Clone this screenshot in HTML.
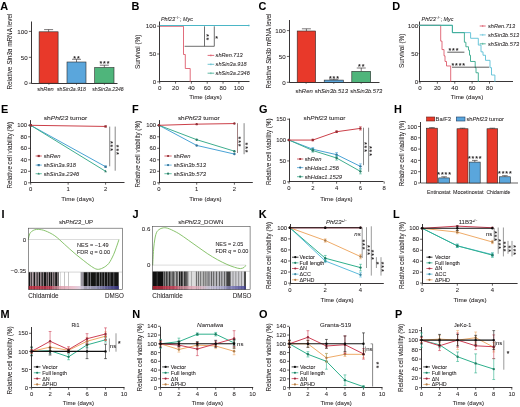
<!DOCTYPE html>
<html><head><meta charset="utf-8"><title>Figure</title>
<style>html,body{margin:0;padding:0;background:#fff;}svg{display:block;} text{stroke:#231f20;stroke-width:0.06px;} text.s{stroke:none;}</style>
</head><body>
<svg width="520" height="407" viewBox="0 0 520 407" font-family="'Liberation Sans', sans-serif" fill="#231f20">
<rect width="520" height="407" fill="#fff"/>
<text x="0.2" y="10" font-size="10.9" font-weight="bold" fill="#000">A</text>
<line x1="31.5" y1="21.5" x2="31.5" y2="83.5" stroke="#231f20" stroke-width="0.9"/>
<line x1="28.9" y1="83.2" x2="31.5" y2="83.2" stroke="#231f20" stroke-width="0.7"/>
<text x="27.6" y="85.43" font-size="6.2" text-anchor="end">0</text>
<line x1="28.9" y1="57.3" x2="31.5" y2="57.3" stroke="#231f20" stroke-width="0.7"/>
<text x="27.6" y="59.53" font-size="6.2" text-anchor="end">50</text>
<line x1="28.9" y1="31.4" x2="31.5" y2="31.4" stroke="#231f20" stroke-width="0.7"/>
<text x="27.6" y="33.63" font-size="6.2" text-anchor="end">100</text>
<line x1="31.4" y1="83.5" x2="117.5" y2="83.5" stroke="#231f20" stroke-width="0.9"/>
<line x1="48.9" y1="83.2" x2="48.9" y2="84.8" stroke="#231f20" stroke-width="0.6"/>
<line x1="76.5" y1="83.2" x2="76.5" y2="84.8" stroke="#231f20" stroke-width="0.6"/>
<line x1="104.4" y1="83.2" x2="104.4" y2="84.8" stroke="#231f20" stroke-width="0.6"/>
<line x1="48.6" y1="31.8" x2="48.6" y2="29.6" stroke="#231f20" stroke-width="0.6"/>
<line x1="44.1" y1="29.6" x2="53.1" y2="29.6" stroke="#231f20" stroke-width="0.6"/>
<rect x="39.1" y="31.8" width="19" height="51.4" fill="#e8392a" stroke="#2a2a2a" stroke-width="0.6"/>
<line x1="76.5" y1="62" x2="76.5" y2="59.3" stroke="#231f20" stroke-width="0.6"/>
<line x1="72" y1="59.3" x2="81" y2="59.3" stroke="#231f20" stroke-width="0.6"/>
<rect x="67" y="62" width="19" height="21.2" fill="#5aa6dc" stroke="#2a2a2a" stroke-width="0.6"/>
<line x1="104.35" y1="67.5" x2="104.35" y2="65.2" stroke="#231f20" stroke-width="0.6"/>
<line x1="99.85" y1="65.2" x2="108.85" y2="65.2" stroke="#231f20" stroke-width="0.6"/>
<rect x="94.7" y="67.5" width="19.3" height="15.7" fill="#4fb57b" stroke="#2a2a2a" stroke-width="0.6"/>
<text x="76.95" y="60.96" font-size="7" text-anchor="middle" font-weight="bold" letter-spacing="0.9" class="s">**</text>
<text x="104.85" y="66.36" font-size="7" text-anchor="middle" font-weight="bold" letter-spacing="0.9" class="s">***</text>
<text x="37.3" y="91.1" font-size="5.4" textLength="16.5" lengthAdjust="spacingAndGlyphs">sh<tspan font-style="italic">Ren</tspan></text>
<text x="57" y="91.1" font-size="5.4" textLength="28.8" lengthAdjust="spacingAndGlyphs">sh<tspan font-style="italic">Sin3a.918</tspan></text>
<text x="92.2" y="91.1" font-size="5.4" textLength="31.5" lengthAdjust="spacingAndGlyphs">sh<tspan font-style="italic">Sin3a.2346</tspan></text>
<text x="12.3" y="51.6" font-size="6.3" text-anchor="middle" transform="rotate(-90 12.3 51.6)" textLength="76" lengthAdjust="spacingAndGlyphs">Relative <tspan font-style="italic">Sin3a</tspan> mRNA level</text>
<text x="131.4" y="10" font-size="10.9" font-weight="bold" fill="#000">B</text>
<line x1="159.5" y1="21.5" x2="159.5" y2="81.8" stroke="#231f20" stroke-width="0.9"/>
<line x1="157.1" y1="81.8" x2="159.5" y2="81.8" stroke="#231f20" stroke-width="0.7"/>
<text x="156.1" y="84.03" font-size="6.2" text-anchor="end">0</text>
<line x1="157.1" y1="54" x2="159.5" y2="54" stroke="#231f20" stroke-width="0.7"/>
<text x="156.1" y="56.23" font-size="6.2" text-anchor="end">50</text>
<line x1="157.1" y1="26.2" x2="159.5" y2="26.2" stroke="#231f20" stroke-width="0.7"/>
<text x="156.1" y="28.43" font-size="6.2" text-anchor="end">100</text>
<line x1="159.7" y1="81.5" x2="249.5" y2="81.5" stroke="#231f20" stroke-width="0.9"/>
<line x1="159.7" y1="81.5" x2="159.7" y2="83.7" stroke="#231f20" stroke-width="0.7"/>
<text x="159.7" y="89.7" font-size="6.2" text-anchor="middle">0</text>
<line x1="175.54" y1="81.5" x2="175.54" y2="83.7" stroke="#231f20" stroke-width="0.7"/>
<text x="175.54" y="89.7" font-size="6.2" text-anchor="middle">20</text>
<line x1="191.38" y1="81.5" x2="191.38" y2="83.7" stroke="#231f20" stroke-width="0.7"/>
<text x="191.38" y="89.7" font-size="6.2" text-anchor="middle">40</text>
<line x1="207.22" y1="81.5" x2="207.22" y2="83.7" stroke="#231f20" stroke-width="0.7"/>
<text x="207.22" y="89.7" font-size="6.2" text-anchor="middle">60</text>
<line x1="223.06" y1="81.5" x2="223.06" y2="83.7" stroke="#231f20" stroke-width="0.7"/>
<text x="223.06" y="89.7" font-size="6.2" text-anchor="middle">80</text>
<line x1="238.9" y1="81.5" x2="238.9" y2="83.7" stroke="#231f20" stroke-width="0.7"/>
<text x="238.9" y="89.7" font-size="6.2" text-anchor="middle">100</text>
<text x="205.5" y="98.6" font-size="6.15" text-anchor="middle" textLength="32.5" lengthAdjust="spacingAndGlyphs">Time (days)</text>
<text x="139.9" y="51.8" font-size="6.3" text-anchor="middle" transform="rotate(-90 139.9 51.8)" textLength="34.4" lengthAdjust="spacingAndGlyphs">Survival (%)</text>
<text x="161" y="21.2" font-size="5.4"><tspan font-style="italic">Phf23</tspan><tspan font-size="3.4" dy="-2">−/−</tspan><tspan dy="2">; </tspan><tspan font-style="italic">Myc</tspan></text>
<polyline points="159.7,26.3 183.5,26.3 183.5,54.5 185.3,54.5 185.3,68.5 190.2,68.5 190.2,81.8" fill="none" stroke="#d9485a" stroke-width="0.8"/>
<polyline points="184.6,46.3 214.3,46.3 214.3,26.3" fill="none" stroke="#4a4a4a" stroke-width="0.8"/>
<line x1="204.5" y1="26.3" x2="204.5" y2="46.3" stroke="#4a4a4a" stroke-width="0.8"/>
<line x1="159.7" y1="25.5" x2="249.5" y2="25.5" stroke="#4bb6c6" stroke-width="1"/>
<line x1="248.8" y1="24.5" x2="248.8" y2="26.5" stroke="#4bb6c6" stroke-width="0.6"/>
<text x="203.84" y="37.55" font-size="7" text-anchor="middle" font-weight="bold" transform="rotate(90 203.84 37.55)" letter-spacing="0.9" class="s">**</text>
<text x="217.15" y="40.76" font-size="7" text-anchor="middle" font-weight="bold" letter-spacing="0.9" class="s">*</text>
<line x1="207.6" y1="55.4" x2="214.2" y2="55.4" stroke="#d9485a" stroke-width="0.8"/>
<line x1="210.9" y1="54.4" x2="210.9" y2="56.4" stroke="#d9485a" stroke-width="0.6"/>
<text x="215.6" y="57.4" font-size="5.6" font-style="italic">shRen.713</text>
<line x1="207.6" y1="64.3" x2="214.2" y2="64.3" stroke="#4bb6c6" stroke-width="0.8"/>
<line x1="210.9" y1="63.3" x2="210.9" y2="65.3" stroke="#4bb6c6" stroke-width="0.6"/>
<text x="215.6" y="66.3" font-size="5.6" font-style="italic">shSin3a.918</text>
<line x1="207.6" y1="73.2" x2="214.2" y2="73.2" stroke="#3aa88e" stroke-width="0.8"/>
<line x1="210.9" y1="72.2" x2="210.9" y2="74.2" stroke="#3aa88e" stroke-width="0.6"/>
<text x="215.6" y="75.2" font-size="5.6" font-style="italic">shSin3a.2346</text>
<text x="258.4" y="10" font-size="10.9" font-weight="bold" fill="#000">C</text>
<line x1="289.5" y1="20" x2="289.5" y2="82.5" stroke="#231f20" stroke-width="0.9"/>
<line x1="286.9" y1="82.3" x2="289.5" y2="82.3" stroke="#231f20" stroke-width="0.7"/>
<text x="285.6" y="84.53" font-size="6.2" text-anchor="end">0</text>
<line x1="286.9" y1="56.45" x2="289.5" y2="56.45" stroke="#231f20" stroke-width="0.7"/>
<text x="285.6" y="58.68" font-size="6.2" text-anchor="end">50</text>
<line x1="286.9" y1="30.6" x2="289.5" y2="30.6" stroke="#231f20" stroke-width="0.7"/>
<text x="285.6" y="32.83" font-size="6.2" text-anchor="end">100</text>
<line x1="289.3" y1="82.5" x2="379.5" y2="82.5" stroke="#231f20" stroke-width="0.9"/>
<line x1="306.1" y1="82.3" x2="306.1" y2="83.9" stroke="#231f20" stroke-width="0.6"/>
<line x1="333.8" y1="82.3" x2="333.8" y2="83.9" stroke="#231f20" stroke-width="0.6"/>
<line x1="361.2" y1="82.3" x2="361.2" y2="83.9" stroke="#231f20" stroke-width="0.6"/>
<line x1="306.4" y1="31" x2="306.4" y2="28.8" stroke="#231f20" stroke-width="0.6"/>
<line x1="301.9" y1="28.8" x2="310.9" y2="28.8" stroke="#231f20" stroke-width="0.6"/>
<rect x="297.2" y="31" width="18.4" height="51.3" fill="#e8392a" stroke="#2a2a2a" stroke-width="0.6"/>
<line x1="333.8" y1="80.1" x2="333.8" y2="79.3" stroke="#231f20" stroke-width="0.6"/>
<line x1="329.3" y1="79.3" x2="338.3" y2="79.3" stroke="#231f20" stroke-width="0.6"/>
<rect x="324.2" y="80.1" width="19.2" height="2.2" fill="#5aa6dc" stroke="#2a2a2a" stroke-width="0.6"/>
<line x1="361.25" y1="71.3" x2="361.25" y2="68" stroke="#231f20" stroke-width="0.6"/>
<line x1="356.75" y1="68" x2="365.75" y2="68" stroke="#231f20" stroke-width="0.6"/>
<rect x="351.8" y="71.3" width="18.9" height="11" fill="#4fb57b" stroke="#2a2a2a" stroke-width="0.6"/>
<text x="334.45" y="81.06" font-size="7" text-anchor="middle" font-weight="bold" letter-spacing="0.9" class="s">***</text>
<text x="361.65" y="69.36" font-size="7" text-anchor="middle" font-weight="bold" letter-spacing="0.9" class="s">**</text>
<text x="295.5" y="93.3" font-size="5.6" textLength="17.3" lengthAdjust="spacingAndGlyphs">sh<tspan font-style="italic">Ren</tspan></text>
<text x="314.7" y="93.3" font-size="5.6" textLength="33.3" lengthAdjust="spacingAndGlyphs">sh<tspan font-style="italic">Sin3b.513</tspan></text>
<text x="350.3" y="93.3" font-size="5.6" textLength="32" lengthAdjust="spacingAndGlyphs">sh<tspan font-style="italic">Sin3b.573</tspan></text>
<text x="271.3" y="51" font-size="6.3" text-anchor="middle" transform="rotate(-90 271.3 51)" textLength="75" lengthAdjust="spacingAndGlyphs">Relative <tspan font-style="italic">Sin3b</tspan> mRNA level</text>
<text x="392.3" y="10" font-size="10.9" font-weight="bold" fill="#000">D</text>
<line x1="419.5" y1="21.5" x2="419.5" y2="81.8" stroke="#231f20" stroke-width="0.9"/>
<line x1="418.5" y1="81.8" x2="419.5" y2="81.8" stroke="#231f20" stroke-width="0.7"/>
<text x="418.2" y="84.03" font-size="6.2" text-anchor="end">0</text>
<line x1="418.5" y1="53.55" x2="419.5" y2="53.55" stroke="#231f20" stroke-width="0.7"/>
<text x="418.2" y="55.78" font-size="6.2" text-anchor="end">50</text>
<line x1="418.5" y1="25.3" x2="419.5" y2="25.3" stroke="#231f20" stroke-width="0.7"/>
<text x="418.2" y="27.53" font-size="6.2" text-anchor="end">100</text>
<line x1="419.3" y1="81.5" x2="513" y2="81.5" stroke="#231f20" stroke-width="0.9"/>
<line x1="420" y1="81.5" x2="420" y2="83.7" stroke="#231f20" stroke-width="0.7"/>
<text x="420" y="89.7" font-size="6.2" text-anchor="middle">0</text>
<line x1="437.38" y1="81.5" x2="437.38" y2="83.7" stroke="#231f20" stroke-width="0.7"/>
<text x="437.38" y="89.7" font-size="6.2" text-anchor="middle">20</text>
<line x1="454.75" y1="81.5" x2="454.75" y2="83.7" stroke="#231f20" stroke-width="0.7"/>
<text x="454.75" y="89.7" font-size="6.2" text-anchor="middle">40</text>
<line x1="472.12" y1="81.5" x2="472.12" y2="83.7" stroke="#231f20" stroke-width="0.7"/>
<text x="472.12" y="89.7" font-size="6.2" text-anchor="middle">60</text>
<line x1="489.5" y1="81.5" x2="489.5" y2="83.7" stroke="#231f20" stroke-width="0.7"/>
<text x="489.5" y="89.7" font-size="6.2" text-anchor="middle">80</text>
<text x="467" y="98.6" font-size="6.15" text-anchor="middle" textLength="32.5" lengthAdjust="spacingAndGlyphs">Time (days)</text>
<text x="404.4" y="50.8" font-size="6.3" text-anchor="middle" transform="rotate(-90 404.4 50.8)" textLength="34.3" lengthAdjust="spacingAndGlyphs">Survival (%)</text>
<text x="421.6" y="21.2" font-size="5.4"><tspan font-style="italic">Phf23</tspan><tspan font-size="3.4" dy="-2">−/−</tspan><tspan dy="2">; </tspan><tspan font-style="italic">Myc</tspan></text>
<polyline points="419.3,25.3 440.7,25.3 440.7,41.12 442,41.12 442,49.59 444,49.59 444,55.81 445,55.81 445,61.46 446.5,61.46 446.5,65.98 450.7,65.98 450.7,81.8" fill="none" stroke="#d9485a" stroke-width="0.8"/>
<polyline points="419.3,25.3 452.4,25.3 452.4,32.64 470.6,32.64 470.6,38.29 478.3,38.29 478.3,45.07 481,45.07 481,51.85 483,51.85 483,55.24 485.5,55.24 485.5,60.33 490,60.33 490,67.67 491.5,67.67 491.5,75.02 494.9,75.02 494.9,81.8" fill="none" stroke="#5bbfd6" stroke-width="0.9"/>
<polyline points="419.3,25.3 452.4,25.3 452.4,32.64 464.4,32.64 464.4,42.25 465.9,42.25 465.9,46.77 468.5,46.77 468.5,50.16 469.5,50.16 469.5,55.24 470.5,55.24 470.5,61.46 475.2,61.46 475.2,67.67 476,67.67 476,72.76 478.3,72.76 478.3,81.8" fill="none" stroke="#35a88c" stroke-width="0.9"/>
<line x1="447.3" y1="52.2" x2="464.4" y2="52.2" stroke="#333" stroke-width="0.8"/>
<text x="453.95" y="53.06" font-size="7" text-anchor="middle" font-weight="bold" letter-spacing="0.9" class="s">***</text>
<line x1="452" y1="67.2" x2="489.2" y2="67.2" stroke="#333" stroke-width="0.8"/>
<text x="458.65" y="67.86" font-size="7" text-anchor="middle" font-weight="bold" letter-spacing="0.9" class="s">****</text>
<line x1="479.7" y1="26" x2="485.7" y2="26" stroke="#d9485a" stroke-width="0.8"/>
<line x1="482.7" y1="25" x2="482.7" y2="27" stroke="#d9485a" stroke-width="0.6"/>
<text x="488" y="28" font-size="5.6" font-style="italic">shRen.713</text>
<line x1="479.7" y1="34.9" x2="485.7" y2="34.9" stroke="#5bbfd6" stroke-width="0.8"/>
<line x1="482.7" y1="33.9" x2="482.7" y2="35.9" stroke="#5bbfd6" stroke-width="0.6"/>
<text x="488" y="36.9" font-size="5.6" font-style="italic">shSin3b.513</text>
<line x1="479.7" y1="43.8" x2="485.7" y2="43.8" stroke="#35a88c" stroke-width="0.8"/>
<line x1="482.7" y1="42.8" x2="482.7" y2="44.8" stroke="#35a88c" stroke-width="0.6"/>
<text x="488" y="45.8" font-size="5.6" font-style="italic">shSin3b.573</text>
<text x="1" y="113.1" font-size="10.9" font-weight="bold" fill="#000">E</text>
<line x1="30.5" y1="120.1" x2="30.5" y2="182.8" stroke="#231f20" stroke-width="0.9"/>
<line x1="28.1" y1="182.8" x2="30.5" y2="182.8" stroke="#231f20" stroke-width="0.7"/>
<text x="27.1" y="184.92" font-size="5.9" text-anchor="end">0</text>
<line x1="28.1" y1="171.3" x2="30.5" y2="171.3" stroke="#231f20" stroke-width="0.7"/>
<text x="27.1" y="173.42" font-size="5.9" text-anchor="end">20</text>
<line x1="28.1" y1="159.8" x2="30.5" y2="159.8" stroke="#231f20" stroke-width="0.7"/>
<text x="27.1" y="161.92" font-size="5.9" text-anchor="end">40</text>
<line x1="28.1" y1="148.3" x2="30.5" y2="148.3" stroke="#231f20" stroke-width="0.7"/>
<text x="27.1" y="150.42" font-size="5.9" text-anchor="end">60</text>
<line x1="28.1" y1="136.8" x2="30.5" y2="136.8" stroke="#231f20" stroke-width="0.7"/>
<text x="27.1" y="138.92" font-size="5.9" text-anchor="end">80</text>
<line x1="28.1" y1="125.3" x2="30.5" y2="125.3" stroke="#231f20" stroke-width="0.7"/>
<text x="27.1" y="127.42" font-size="5.9" text-anchor="end">100</text>
<line x1="30.7" y1="182.5" x2="124.5" y2="182.5" stroke="#231f20" stroke-width="0.9"/>
<line x1="30.7" y1="182.5" x2="30.7" y2="184.7" stroke="#231f20" stroke-width="0.7"/>
<text x="30.7" y="191.3" font-size="5.9" text-anchor="middle">0</text>
<line x1="68.15" y1="182.5" x2="68.15" y2="184.7" stroke="#231f20" stroke-width="0.7"/>
<text x="68.15" y="191.3" font-size="5.9" text-anchor="middle">1</text>
<line x1="105.6" y1="182.5" x2="105.6" y2="184.7" stroke="#231f20" stroke-width="0.7"/>
<text x="105.6" y="191.3" font-size="5.9" text-anchor="middle">2</text>
<text x="77.6" y="200.6" font-size="6.15" text-anchor="middle" textLength="32.8" lengthAdjust="spacingAndGlyphs">Time (days)</text>
<text x="12.2" y="155.2" font-size="6.3" text-anchor="middle" transform="rotate(-90 12.2 155.2)" textLength="66.5" lengthAdjust="spacingAndGlyphs">Relative cell viability (%)</text>
<text x="43.7" y="120.2" font-size="5.8" textLength="43.5" lengthAdjust="spacingAndGlyphs">sh<tspan font-style="italic">Phf23</tspan> tumor</text>
<polyline points="30.7,125.3 105.6,166.7" fill="none" stroke="#4aa3d6" stroke-width="1"/>
<rect x="29.5" y="124.1" width="2.4" height="2.4" fill="#35759a"/>
<rect x="104.4" y="165.5" width="2.4" height="2.4" fill="#35759a"/>
<polyline points="30.7,125.3 105.6,171.3" fill="none" stroke="#3fae8f" stroke-width="1"/>
<polygon points="30.7,123.86 29.38,126.26 32.02,126.26" fill="#2d7d66"/>
<polygon points="105.6,169.86 104.28,172.26 106.92,172.26" fill="#2d7d66"/>
<polyline points="30.7,125.3 105.6,126.45" fill="none" stroke="#cc4049" stroke-width="1"/>
<rect x="29.5" y="124.1" width="2.4" height="2.4" fill="#922e34"/>
<rect x="104.4" y="125.25" width="2.4" height="2.4" fill="#922e34"/>
<line x1="109.7" y1="126.6" x2="109.7" y2="166.3" stroke="#555" stroke-width="0.7"/>
<text x="107.84" y="146.35" font-size="7" text-anchor="middle" font-weight="bold" transform="rotate(90 107.84 146.35)" letter-spacing="0.9" class="s">***</text>
<line x1="115.2" y1="126.6" x2="115.2" y2="170.7" stroke="#555" stroke-width="0.7"/>
<text x="113.74" y="150.25" font-size="7" text-anchor="middle" font-weight="bold" transform="rotate(90 113.74 150.25)" letter-spacing="0.9" class="s">***</text>
<line x1="35.6" y1="156" x2="41.8" y2="156" stroke="#cc4049" stroke-width="0.8"/>
<rect x="37.6" y="154.9" width="2.2" height="2.2" fill="#922e34"/>
<text x="43.7" y="158.09" font-size="5.8">sh<tspan font-style="italic">Ren</tspan></text>
<line x1="35.6" y1="165.1" x2="41.8" y2="165.1" stroke="#4aa3d6" stroke-width="0.8"/>
<rect x="37.6" y="164" width="2.2" height="2.2" fill="#35759a"/>
<text x="43.7" y="167.19" font-size="5.8">sh<tspan font-style="italic">Sin3a.918</tspan></text>
<line x1="35.6" y1="173.7" x2="41.8" y2="173.7" stroke="#3fae8f" stroke-width="0.8"/>
<polygon points="38.7,172.38 37.49,174.58 39.91,174.58" fill="#2d7d66"/>
<text x="43.7" y="175.79" font-size="5.8">sh<tspan font-style="italic">Sin3a.2346</tspan></text>
<text x="132" y="113.1" font-size="10.9" font-weight="bold" fill="#000">F</text>
<line x1="159.5" y1="120.1" x2="159.5" y2="182.8" stroke="#231f20" stroke-width="0.9"/>
<line x1="157.1" y1="182.8" x2="159.5" y2="182.8" stroke="#231f20" stroke-width="0.7"/>
<text x="156.1" y="184.92" font-size="5.9" text-anchor="end">0</text>
<line x1="157.1" y1="171.3" x2="159.5" y2="171.3" stroke="#231f20" stroke-width="0.7"/>
<text x="156.1" y="173.42" font-size="5.9" text-anchor="end">20</text>
<line x1="157.1" y1="159.8" x2="159.5" y2="159.8" stroke="#231f20" stroke-width="0.7"/>
<text x="156.1" y="161.92" font-size="5.9" text-anchor="end">40</text>
<line x1="157.1" y1="148.3" x2="159.5" y2="148.3" stroke="#231f20" stroke-width="0.7"/>
<text x="156.1" y="150.42" font-size="5.9" text-anchor="end">60</text>
<line x1="157.1" y1="136.8" x2="159.5" y2="136.8" stroke="#231f20" stroke-width="0.7"/>
<text x="156.1" y="138.92" font-size="5.9" text-anchor="end">80</text>
<line x1="157.1" y1="125.3" x2="159.5" y2="125.3" stroke="#231f20" stroke-width="0.7"/>
<text x="156.1" y="127.42" font-size="5.9" text-anchor="end">100</text>
<line x1="159" y1="182.5" x2="252.8" y2="182.5" stroke="#231f20" stroke-width="0.9"/>
<line x1="159" y1="182.5" x2="159" y2="184.7" stroke="#231f20" stroke-width="0.7"/>
<text x="159" y="191.3" font-size="5.9" text-anchor="middle">0</text>
<line x1="196.7" y1="182.5" x2="196.7" y2="184.7" stroke="#231f20" stroke-width="0.7"/>
<text x="196.7" y="191.3" font-size="5.9" text-anchor="middle">1</text>
<line x1="234.4" y1="182.5" x2="234.4" y2="184.7" stroke="#231f20" stroke-width="0.7"/>
<text x="234.4" y="191.3" font-size="5.9" text-anchor="middle">2</text>
<text x="205.4" y="200.6" font-size="6.15" text-anchor="middle" textLength="32.4" lengthAdjust="spacingAndGlyphs">Time (days)</text>
<text x="140.4" y="154.3" font-size="6.3" text-anchor="middle" transform="rotate(-90 140.4 154.3)" textLength="66.5" lengthAdjust="spacingAndGlyphs">Relative cell viability (%)</text>
<text x="177.9" y="120.2" font-size="5.8" textLength="41.7" lengthAdjust="spacingAndGlyphs">sh<tspan font-style="italic">Phf23</tspan> tumor</text>
<polyline points="159,125.3 196.7,145.43 234.4,154.05" fill="none" stroke="#4aa3d6" stroke-width="1"/>
<circle cx="159" cy="125.3" r="1.2" fill="#35759a"/>
<circle cx="196.7" cy="145.43" r="1.2" fill="#35759a"/>
<circle cx="234.4" cy="154.05" r="1.2" fill="#35759a"/>
<polyline points="159,125.3 196.7,139.68 234.4,151.18" fill="none" stroke="#3fae8f" stroke-width="1"/>
<circle cx="159" cy="125.3" r="1.2" fill="#2d7d66"/>
<circle cx="196.7" cy="139.68" r="1.2" fill="#2d7d66"/>
<circle cx="234.4" cy="151.18" r="1.2" fill="#2d7d66"/>
<polyline points="159,125.3 196.7,124.15 234.4,123.57" fill="none" stroke="#cc4049" stroke-width="1"/>
<circle cx="159" cy="125.3" r="1.2" fill="#922e34"/>
<circle cx="196.7" cy="124.15" r="1.2" fill="#922e34"/>
<circle cx="234.4" cy="123.57" r="1.2" fill="#922e34"/>
<line x1="237.5" y1="123.2" x2="237.5" y2="153" stroke="#7a4a4a" stroke-width="0.7"/>
<text x="236.24" y="141.95" font-size="7" text-anchor="middle" font-weight="bold" transform="rotate(90 236.24 141.95)" letter-spacing="0.9" class="s">***</text>
<line x1="244.1" y1="123.2" x2="244.1" y2="154.2" stroke="#555" stroke-width="0.7"/>
<text x="243.24" y="147.95" font-size="7" text-anchor="middle" font-weight="bold" transform="rotate(90 243.24 147.95)" letter-spacing="0.9" class="s">***</text>
<line x1="164.4" y1="156" x2="171.7" y2="156" stroke="#cc4049" stroke-width="0.8"/>
<circle cx="168.05" cy="156" r="1.1" fill="#922e34"/>
<text x="173.7" y="158.09" font-size="5.8">sh<tspan font-style="italic">Ren</tspan></text>
<line x1="164.4" y1="165.1" x2="171.7" y2="165.1" stroke="#4aa3d6" stroke-width="0.8"/>
<circle cx="168.05" cy="165.1" r="1.1" fill="#35759a"/>
<text x="173.7" y="167.19" font-size="5.8">sh<tspan font-style="italic">Sin3b.513</tspan></text>
<line x1="164.4" y1="173.7" x2="171.7" y2="173.7" stroke="#3fae8f" stroke-width="0.8"/>
<circle cx="168.05" cy="173.7" r="1.1" fill="#2d7d66"/>
<text x="173.7" y="175.79" font-size="5.8">sh<tspan font-style="italic">Sin3b.573</tspan></text>
<text x="258.9" y="113.1" font-size="10.9" font-weight="bold" fill="#000">G</text>
<line x1="289.5" y1="118.5" x2="289.5" y2="181.8" stroke="#231f20" stroke-width="0.9"/>
<line x1="287.1" y1="181.8" x2="289.5" y2="181.8" stroke="#231f20" stroke-width="0.7"/>
<text x="286.1" y="183.92" font-size="5.9" text-anchor="end">0</text>
<line x1="287.1" y1="160.93" x2="289.5" y2="160.93" stroke="#231f20" stroke-width="0.7"/>
<text x="286.1" y="163.06" font-size="5.9" text-anchor="end">50</text>
<line x1="287.1" y1="140.07" x2="289.5" y2="140.07" stroke="#231f20" stroke-width="0.7"/>
<text x="286.1" y="142.19" font-size="5.9" text-anchor="end">100</text>
<line x1="287.1" y1="119.2" x2="289.5" y2="119.2" stroke="#231f20" stroke-width="0.7"/>
<text x="286.1" y="121.32" font-size="5.9" text-anchor="end">150</text>
<line x1="289" y1="181.5" x2="383.5" y2="181.5" stroke="#231f20" stroke-width="0.9"/>
<line x1="289" y1="181.5" x2="289" y2="183.7" stroke="#231f20" stroke-width="0.7"/>
<text x="289" y="190.3" font-size="5.9" text-anchor="middle">0</text>
<line x1="312.8" y1="181.5" x2="312.8" y2="183.7" stroke="#231f20" stroke-width="0.7"/>
<text x="312.8" y="190.3" font-size="5.9" text-anchor="middle">2</text>
<line x1="336.6" y1="181.5" x2="336.6" y2="183.7" stroke="#231f20" stroke-width="0.7"/>
<text x="336.6" y="190.3" font-size="5.9" text-anchor="middle">4</text>
<line x1="360.4" y1="181.5" x2="360.4" y2="183.7" stroke="#231f20" stroke-width="0.7"/>
<text x="360.4" y="190.3" font-size="5.9" text-anchor="middle">6</text>
<line x1="384.2" y1="181.5" x2="384.2" y2="183.7" stroke="#231f20" stroke-width="0.7"/>
<text x="384.2" y="190.3" font-size="5.9" text-anchor="middle">8</text>
<text x="336.4" y="200.6" font-size="6.15" text-anchor="middle" textLength="32.4" lengthAdjust="spacingAndGlyphs">Time (days)</text>
<text x="270.6" y="151.8" font-size="6.3" text-anchor="middle" transform="rotate(-90 270.6 151.8)" textLength="66.5" lengthAdjust="spacingAndGlyphs">Relative cell viability (%)</text>
<text x="303.6" y="120.2" font-size="5.8" textLength="41.8" lengthAdjust="spacingAndGlyphs">sh<tspan font-style="italic">Phf23</tspan> tumor</text>
<polyline points="289,140.07 312.8,149.25 336.6,154.67 360.4,166.36" fill="none" stroke="#4aa3d6" stroke-width="1"/>
<line x1="312.8" y1="150.92" x2="312.8" y2="147.58" stroke="#4aa3d6" stroke-width="0.6"/>
<line x1="311.4" y1="150.92" x2="314.2" y2="150.92" stroke="#4aa3d6" stroke-width="0.6"/>
<line x1="311.4" y1="147.58" x2="314.2" y2="147.58" stroke="#4aa3d6" stroke-width="0.6"/>
<line x1="336.6" y1="156.76" x2="336.6" y2="152.59" stroke="#4aa3d6" stroke-width="0.6"/>
<line x1="335.2" y1="156.76" x2="338" y2="156.76" stroke="#4aa3d6" stroke-width="0.6"/>
<line x1="335.2" y1="152.59" x2="338" y2="152.59" stroke="#4aa3d6" stroke-width="0.6"/>
<line x1="360.4" y1="168.86" x2="360.4" y2="163.85" stroke="#4aa3d6" stroke-width="0.6"/>
<line x1="359" y1="168.86" x2="361.8" y2="168.86" stroke="#4aa3d6" stroke-width="0.6"/>
<line x1="359" y1="163.85" x2="361.8" y2="163.85" stroke="#4aa3d6" stroke-width="0.6"/>
<circle cx="289" cy="140.07" r="1.2" fill="#35759a"/>
<circle cx="312.8" cy="149.25" r="1.2" fill="#35759a"/>
<circle cx="336.6" cy="154.67" r="1.2" fill="#35759a"/>
<circle cx="360.4" cy="166.36" r="1.2" fill="#35759a"/>
<polyline points="289,140.07 312.8,150.5 336.6,158.01 360.4,171.37" fill="none" stroke="#3fae8f" stroke-width="1"/>
<line x1="312.8" y1="152.17" x2="312.8" y2="148.83" stroke="#3fae8f" stroke-width="0.6"/>
<line x1="311.4" y1="152.17" x2="314.2" y2="152.17" stroke="#3fae8f" stroke-width="0.6"/>
<line x1="311.4" y1="148.83" x2="314.2" y2="148.83" stroke="#3fae8f" stroke-width="0.6"/>
<line x1="336.6" y1="160.1" x2="336.6" y2="155.93" stroke="#3fae8f" stroke-width="0.6"/>
<line x1="335.2" y1="160.1" x2="338" y2="160.1" stroke="#3fae8f" stroke-width="0.6"/>
<line x1="335.2" y1="155.93" x2="338" y2="155.93" stroke="#3fae8f" stroke-width="0.6"/>
<line x1="360.4" y1="173.87" x2="360.4" y2="168.86" stroke="#3fae8f" stroke-width="0.6"/>
<line x1="359" y1="173.87" x2="361.8" y2="173.87" stroke="#3fae8f" stroke-width="0.6"/>
<line x1="359" y1="168.86" x2="361.8" y2="168.86" stroke="#3fae8f" stroke-width="0.6"/>
<circle cx="289" cy="140.07" r="1.2" fill="#2d7d66"/>
<circle cx="312.8" cy="150.5" r="1.2" fill="#2d7d66"/>
<circle cx="336.6" cy="158.01" r="1.2" fill="#2d7d66"/>
<circle cx="360.4" cy="171.37" r="1.2" fill="#2d7d66"/>
<polyline points="289,140.07 312.8,140.07 336.6,131.72 360.4,128.38" fill="none" stroke="#cc4049" stroke-width="1"/>
<line x1="312.8" y1="140.9" x2="312.8" y2="139.23" stroke="#cc4049" stroke-width="0.6"/>
<line x1="311.4" y1="140.9" x2="314.2" y2="140.9" stroke="#cc4049" stroke-width="0.6"/>
<line x1="311.4" y1="139.23" x2="314.2" y2="139.23" stroke="#cc4049" stroke-width="0.6"/>
<line x1="336.6" y1="132.55" x2="336.6" y2="130.89" stroke="#cc4049" stroke-width="0.6"/>
<line x1="335.2" y1="132.55" x2="338" y2="132.55" stroke="#cc4049" stroke-width="0.6"/>
<line x1="335.2" y1="130.89" x2="338" y2="130.89" stroke="#cc4049" stroke-width="0.6"/>
<line x1="360.4" y1="130.05" x2="360.4" y2="126.71" stroke="#cc4049" stroke-width="0.6"/>
<line x1="359" y1="130.05" x2="361.8" y2="130.05" stroke="#cc4049" stroke-width="0.6"/>
<line x1="359" y1="126.71" x2="361.8" y2="126.71" stroke="#cc4049" stroke-width="0.6"/>
<circle cx="289" cy="140.07" r="1.2" fill="#922e34"/>
<circle cx="312.8" cy="140.07" r="1.2" fill="#922e34"/>
<circle cx="336.6" cy="131.72" r="1.2" fill="#922e34"/>
<circle cx="360.4" cy="128.38" r="1.2" fill="#922e34"/>
<line x1="363.5" y1="127.7" x2="363.5" y2="165.2" stroke="#555" stroke-width="0.7"/>
<text x="361.84" y="147.45" font-size="7" text-anchor="middle" font-weight="bold" transform="rotate(90 361.84 147.45)" letter-spacing="0.9" class="s">***</text>
<line x1="368.6" y1="127.7" x2="368.6" y2="171.8" stroke="#555" stroke-width="0.7"/>
<text x="367.14" y="151.45" font-size="7" text-anchor="middle" font-weight="bold" transform="rotate(90 367.14 151.45)" letter-spacing="0.9" class="s">***</text>
<line x1="297" y1="159" x2="303.3" y2="159" stroke="#cc4049" stroke-width="0.8"/>
<circle cx="300.15" cy="159" r="1.1" fill="#922e34"/>
<text x="304.7" y="161.09" font-size="5.8">sh<tspan font-style="italic">Ren</tspan></text>
<line x1="297" y1="167.6" x2="303.3" y2="167.6" stroke="#4aa3d6" stroke-width="0.8"/>
<circle cx="300.15" cy="167.6" r="1.1" fill="#35759a"/>
<text x="304.7" y="169.69" font-size="5.8">sh<tspan font-style="italic">Hdac1.256</tspan></text>
<line x1="297" y1="176.7" x2="303.3" y2="176.7" stroke="#3fae8f" stroke-width="0.8"/>
<circle cx="300.15" cy="176.7" r="1.1" fill="#2d7d66"/>
<text x="304.7" y="178.79" font-size="5.8">sh<tspan font-style="italic">Hdac1.1529</tspan></text>
<text x="394" y="113.1" font-size="10.9" font-weight="bold" fill="#000">H</text>
<line x1="420.5" y1="122" x2="420.5" y2="183" stroke="#231f20" stroke-width="0.9"/>
<line x1="418.1" y1="183" x2="420.5" y2="183" stroke="#231f20" stroke-width="0.7"/>
<text x="417.1" y="185.12" font-size="5.9" text-anchor="end">0</text>
<line x1="418.1" y1="171.7" x2="420.5" y2="171.7" stroke="#231f20" stroke-width="0.7"/>
<text x="417.1" y="173.82" font-size="5.9" text-anchor="end">20</text>
<line x1="418.1" y1="160.4" x2="420.5" y2="160.4" stroke="#231f20" stroke-width="0.7"/>
<text x="417.1" y="162.52" font-size="5.9" text-anchor="end">40</text>
<line x1="418.1" y1="149.1" x2="420.5" y2="149.1" stroke="#231f20" stroke-width="0.7"/>
<text x="417.1" y="151.22" font-size="5.9" text-anchor="end">60</text>
<line x1="418.1" y1="137.8" x2="420.5" y2="137.8" stroke="#231f20" stroke-width="0.7"/>
<text x="417.1" y="139.92" font-size="5.9" text-anchor="end">80</text>
<line x1="418.1" y1="126.5" x2="420.5" y2="126.5" stroke="#231f20" stroke-width="0.7"/>
<text x="417.1" y="128.62" font-size="5.9" text-anchor="end">100</text>
<line x1="420.9" y1="183" x2="518" y2="183" stroke="#231f20" stroke-width="0.7"/>
<text x="404.1" y="153.5" font-size="6.3" text-anchor="middle" transform="rotate(-90 404.1 153.5)" textLength="65.5" lengthAdjust="spacingAndGlyphs">Relative cell viability (%)</text>
<line x1="431.95" y1="128.19" x2="431.95" y2="127.63" stroke="#231f20" stroke-width="0.6"/>
<line x1="429.15" y1="127.63" x2="434.75" y2="127.63" stroke="#231f20" stroke-width="0.6"/>
<rect x="426.4" y="128.19" width="11.1" height="54.81" fill="#e8392a" stroke="#2a2a2a" stroke-width="0.6"/>
<line x1="444.1" y1="177.91" x2="444.1" y2="176.78" stroke="#231f20" stroke-width="0.6"/>
<line x1="441.3" y1="176.78" x2="446.9" y2="176.78" stroke="#231f20" stroke-width="0.6"/>
<rect x="438.7" y="177.91" width="10.8" height="5.09" fill="#5aa6dc" stroke="#2a2a2a" stroke-width="0.6"/>
<line x1="462.5" y1="128.76" x2="462.5" y2="128.19" stroke="#231f20" stroke-width="0.6"/>
<line x1="459.7" y1="128.19" x2="465.3" y2="128.19" stroke="#231f20" stroke-width="0.6"/>
<rect x="457" y="128.76" width="11" height="54.24" fill="#e8392a" stroke="#2a2a2a" stroke-width="0.6"/>
<line x1="474.8" y1="162.09" x2="474.8" y2="160.4" stroke="#231f20" stroke-width="0.6"/>
<line x1="472" y1="160.4" x2="477.6" y2="160.4" stroke="#231f20" stroke-width="0.6"/>
<rect x="469.4" y="162.09" width="10.8" height="20.91" fill="#5aa6dc" stroke="#2a2a2a" stroke-width="0.6"/>
<line x1="492.35" y1="128.76" x2="492.35" y2="128.19" stroke="#231f20" stroke-width="0.6"/>
<line x1="489.55" y1="128.19" x2="495.15" y2="128.19" stroke="#231f20" stroke-width="0.6"/>
<rect x="487" y="128.76" width="10.7" height="54.24" fill="#e8392a" stroke="#2a2a2a" stroke-width="0.6"/>
<line x1="504.9" y1="176.78" x2="504.9" y2="175.66" stroke="#231f20" stroke-width="0.6"/>
<line x1="502.1" y1="175.66" x2="507.7" y2="175.66" stroke="#231f20" stroke-width="0.6"/>
<rect x="499.4" y="176.78" width="11" height="6.22" fill="#5aa6dc" stroke="#2a2a2a" stroke-width="0.6"/>
<text x="444.55" y="177.17" font-size="7" text-anchor="middle" font-weight="bold" letter-spacing="0.9" class="s">****</text>
<text x="475.25" y="161.35" font-size="7" text-anchor="middle" font-weight="bold" letter-spacing="0.9" class="s">****</text>
<text x="505.35" y="176.04" font-size="7" text-anchor="middle" font-weight="bold" letter-spacing="0.9" class="s">****</text>
<rect x="426.6" y="117" width="8.1" height="4" fill="#e8392a" stroke="#6a1c14" stroke-width="0.6"/>
<text x="435.6" y="120.9" font-size="5.8" textLength="15.4" lengthAdjust="spacingAndGlyphs">Ba/F3</text>
<rect x="456.3" y="117" width="8.7" height="4" fill="#5aa6dc" stroke="#1c3c66" stroke-width="0.6"/>
<text x="466.4" y="120.9" font-size="5.8" textLength="37.4" lengthAdjust="spacingAndGlyphs">sh<tspan font-style="italic">Phf23</tspan> tumor</text>
<text x="427" y="194.4" font-size="5.8" textLength="23.5" lengthAdjust="spacingAndGlyphs">Entinostat</text>
<text x="453" y="194.4" font-size="5.8" textLength="30.4" lengthAdjust="spacingAndGlyphs">Mocetinostat</text>
<text x="486.4" y="194.4" font-size="5.8" textLength="24" lengthAdjust="spacingAndGlyphs">Chidamide</text>
<text x="1.4" y="217.6" font-size="10.9" font-weight="bold" fill="#000">I</text>
<rect x="28.4" y="272.1" width="30.2" height="17.4" fill="#b2a2a8"/>
<rect x="58.6" y="272.1" width="22" height="17.4" fill="#ffffff"/>
<rect x="80.6" y="272.1" width="3" height="17.4" fill="#9a96a0"/>
<rect x="83.6" y="272.1" width="35.1" height="17.4" fill="#141414"/>
<rect x="29" y="272.1" width="1.2" height="17.4" fill="#151515"/>
<rect x="31.3" y="272.1" width="0.7" height="17.4" fill="#151515"/>
<rect x="33.6" y="272.1" width="1.4" height="17.4" fill="#151515"/>
<rect x="36.7" y="272.1" width="0.9" height="17.4" fill="#151515"/>
<rect x="38.8" y="272.1" width="1.4" height="17.4" fill="#151515"/>
<rect x="41.5" y="272.1" width="1.3" height="17.4" fill="#151515"/>
<rect x="44" y="272.1" width="2.4" height="17.4" fill="#151515"/>
<rect x="47" y="272.1" width="0.7" height="17.4" fill="#151515"/>
<rect x="48.8" y="272.1" width="1.5" height="17.4" fill="#151515"/>
<rect x="50.8" y="272.1" width="1.4" height="17.4" fill="#151515"/>
<rect x="53.4" y="272.1" width="0.9" height="17.4" fill="#151515"/>
<rect x="55.2" y="272.1" width="2" height="17.4" fill="#151515"/>
<rect x="57.8" y="272.1" width="0.8" height="17.4" fill="#151515"/>
<rect x="35.8" y="272.1" width="0.6" height="17.4" fill="#6a6468"/>
<rect x="43" y="272.1" width="0.6" height="17.4" fill="#6a6468"/>
<rect x="64.2" y="272.1" width="0.6" height="17.4" fill="#a0a0a0"/>
<rect x="68.2" y="272.1" width="0.6" height="17.4" fill="#a0a0a0"/>
<rect x="60.2" y="272.1" width="0.4" height="17.4" fill="#a0a0a0"/>
<rect x="87.3" y="272.1" width="1.3" height="17.4" fill="#7c7c80"/>
<rect x="90" y="272.1" width="0.8" height="17.4" fill="#7c7c80"/>
<rect x="95.8" y="272.1" width="0.7" height="17.4" fill="#7c7c80"/>
<rect x="99.2" y="272.1" width="0.8" height="17.4" fill="#7c7c80"/>
<rect x="101.5" y="272.1" width="0.8" height="17.4" fill="#7c7c80"/>
<rect x="104.2" y="272.1" width="0.8" height="17.4" fill="#7c7c80"/>
<rect x="107.3" y="272.1" width="0.7" height="17.4" fill="#7c7c80"/>
<rect x="109.6" y="272.1" width="0.8" height="17.4" fill="#7c7c80"/>
<rect x="113.5" y="272.1" width="0.7" height="17.4" fill="#7c7c80"/>
<defs><linearGradient id="cbI" x1="0" x2="1" y1="0" y2="0"><stop offset="0" stop-color="#c8283a"/><stop offset="0.24" stop-color="#d0405a"/><stop offset="0.3" stop-color="#d88898"/><stop offset="0.5" stop-color="#e6b4c4"/><stop offset="0.6" stop-color="#d4cce2"/><stop offset="0.74" stop-color="#b4b2d8"/><stop offset="0.88" stop-color="#6a68b0"/><stop offset="1" stop-color="#3a3890"/></linearGradient></defs>
<rect x="28.4" y="286" width="90.5" height="3.5" fill="url(#cbI)" opacity="0.78"/>
<line x1="28.4" y1="239.5" x2="118.9" y2="239.5" stroke="#c4c4c4" stroke-width="0.6"/>
<path d="M28.3,239.5 C28.55,238.53 29.22,235.05 29.8,233.7 C30.38,232.35 30.98,232.05 31.8,231.4 C32.62,230.75 33.58,230.13 34.7,229.8 C35.82,229.47 36.75,229.23 38.5,229.4 C40.25,229.57 42.48,229.73 45.2,230.8 C47.92,231.87 51.58,233.55 54.8,235.8 C58.02,238.05 61.28,241.45 64.5,244.3 C67.72,247.15 70.9,250.18 74.1,252.9 C77.3,255.62 80.82,258.35 83.7,260.6 C86.58,262.85 89.15,264.95 91.4,266.4 C93.65,267.85 95.28,269.05 97.2,269.3 C99.12,269.55 100.98,268.87 102.9,267.9 C104.82,266.93 106.93,265.68 108.7,263.5 C110.47,261.32 112.22,257.52 113.5,254.8 C114.78,252.08 115.48,249.75 116.4,247.2 C117.32,244.65 118.57,240.78 119,239.5" fill="none" stroke="#7cbc5c" stroke-width="0.9"/>
<rect x="28.4" y="228.2" width="94" height="61.3" fill="none" stroke="#4a4a4a" stroke-width="0.6"/>
<line x1="28.4" y1="272.1" x2="122.4" y2="272.1" stroke="#9a9a9a" stroke-width="0.4"/>
<text x="26.2" y="241.6" font-size="6.1" text-anchor="end">0</text>
<text x="26.2" y="272.7" font-size="6.1" text-anchor="end">−0.35</text>
<text x="76" y="224" font-size="6.1" text-anchor="middle">sh<tspan font-style="italic">Phf23</tspan>_UP</text>
<text x="77" y="247.3" font-size="5.9" textLength="31.7" lengthAdjust="spacingAndGlyphs">NES = −1.49</text>
<text x="77" y="254" font-size="5.9" textLength="33" lengthAdjust="spacingAndGlyphs">FDR <tspan font-style="italic">q</tspan> = 0.00</text>
<text x="28.2" y="297.6" font-size="6.3" textLength="30.4" lengthAdjust="spacingAndGlyphs">Chidamide</text>
<text x="123.8" y="297.6" font-size="6.4" text-anchor="end" textLength="18.8" lengthAdjust="spacingAndGlyphs">DMSO</text>
<text x="132.4" y="217.6" font-size="10.9" font-weight="bold" fill="#000">J</text>
<rect x="152.5" y="271.4" width="11" height="18.2" fill="#101010"/>
<rect x="163.5" y="271.4" width="13.4" height="18.2" fill="#8a8a8a"/>
<rect x="176.9" y="271.4" width="10.6" height="18.2" fill="#9a9898"/>
<rect x="187.5" y="271.4" width="7.7" height="18.2" fill="#dcdcdc"/>
<rect x="195.2" y="271.4" width="12.5" height="18.2" fill="#c4c4c4"/>
<rect x="207.7" y="271.4" width="19.2" height="18.2" fill="#b8b8bc"/>
<rect x="226.9" y="271.4" width="3.9" height="18.2" fill="#404040"/>
<rect x="230.8" y="271.4" width="13.4" height="18.2" fill="#cfcfd4"/>
<rect x="244.2" y="271.4" width="1.6" height="18.2" fill="#202020"/>
<rect x="156.8" y="271.4" width="0.6" height="18.2" fill="#606060"/>
<rect x="163.8" y="271.4" width="0.8" height="18.2" fill="#1a1a1a"/>
<rect x="166.3" y="271.4" width="1" height="18.2" fill="#1a1a1a"/>
<rect x="169.2" y="271.4" width="1" height="18.2" fill="#1a1a1a"/>
<rect x="172.7" y="271.4" width="0.8" height="18.2" fill="#1a1a1a"/>
<rect x="175" y="271.4" width="1" height="18.2" fill="#1a1a1a"/>
<rect x="175.3" y="271.4" width="1" height="18.2" fill="#f0f0f0"/>
<rect x="177.6" y="271.4" width="0.7" height="18.2" fill="#f0f0f0"/>
<rect x="176.4" y="271.4" width="1.1" height="18.2" fill="#202020"/>
<rect x="179" y="271.4" width="1.2" height="18.2" fill="#202020"/>
<rect x="180.8" y="271.4" width="1.8" height="18.2" fill="#202020"/>
<rect x="184.2" y="271.4" width="1.4" height="18.2" fill="#202020"/>
<rect x="186.5" y="271.4" width="1" height="18.2" fill="#202020"/>
<rect x="188.5" y="271.4" width="0.5" height="18.2" fill="#8a8a8a"/>
<rect x="191.3" y="271.4" width="0.6" height="18.2" fill="#8a8a8a"/>
<rect x="196.2" y="271.4" width="0.7" height="18.2" fill="#4a4a4a"/>
<rect x="198.1" y="271.4" width="0.7" height="18.2" fill="#4a4a4a"/>
<rect x="200.4" y="271.4" width="0.7" height="18.2" fill="#4a4a4a"/>
<rect x="202.9" y="271.4" width="0.7" height="18.2" fill="#4a4a4a"/>
<rect x="204.8" y="271.4" width="0.7" height="18.2" fill="#4a4a4a"/>
<rect x="206.7" y="271.4" width="0.7" height="18.2" fill="#4a4a4a"/>
<rect x="208.6" y="271.4" width="0.7" height="18.2" fill="#3a3a3a"/>
<rect x="211.1" y="271.4" width="0.7" height="18.2" fill="#3a3a3a"/>
<rect x="213.4" y="271.4" width="0.7" height="18.2" fill="#3a3a3a"/>
<rect x="216.3" y="271.4" width="0.7" height="18.2" fill="#3a3a3a"/>
<rect x="219.2" y="271.4" width="0.7" height="18.2" fill="#3a3a3a"/>
<rect x="221.5" y="271.4" width="0.7" height="18.2" fill="#3a3a3a"/>
<rect x="224" y="271.4" width="0.7" height="18.2" fill="#3a3a3a"/>
<rect x="225.9" y="271.4" width="0.7" height="18.2" fill="#3a3a3a"/>
<rect x="232.7" y="271.4" width="0.6" height="18.2" fill="#6a6a6a"/>
<rect x="235.6" y="271.4" width="0.6" height="18.2" fill="#6a6a6a"/>
<rect x="238.5" y="271.4" width="0.6" height="18.2" fill="#6a6a6a"/>
<rect x="241.4" y="271.4" width="0.6" height="18.2" fill="#6a6a6a"/>
<defs><linearGradient id="cbJ" x1="0" x2="1" y1="0" y2="0"><stop offset="0" stop-color="#c8283a"/><stop offset="0.24" stop-color="#d0405a"/><stop offset="0.3" stop-color="#d88898"/><stop offset="0.5" stop-color="#e6b4c4"/><stop offset="0.6" stop-color="#d4cce2"/><stop offset="0.74" stop-color="#b4b2d8"/><stop offset="0.88" stop-color="#6a68b0"/><stop offset="1" stop-color="#3a3890"/></linearGradient></defs>
<rect x="152.5" y="286" width="93.3" height="3.6" fill="url(#cbJ)" opacity="0.78"/>
<line x1="152.5" y1="265.1" x2="245.8" y2="265.1" stroke="#c4c4c4" stroke-width="0.6"/>
<path d="M152.7,265.3 C152.88,262.25 153.28,252.12 153.8,247 C154.32,241.88 154.98,237.47 155.8,234.6 C156.62,231.73 157.42,230.93 158.7,229.8 C159.98,228.67 161.75,227.97 163.5,227.8 C165.25,227.63 166.65,227.83 169.2,228.8 C171.75,229.77 175.58,231.68 178.8,233.6 C182.02,235.52 185.28,238.05 188.5,240.3 C191.72,242.55 194.9,244.85 198.1,247.1 C201.3,249.35 204.5,251.72 207.7,253.8 C210.9,255.88 214.1,257.83 217.3,259.6 C220.5,261.37 224.02,263.12 226.9,264.4 C229.78,265.68 232.35,266.6 234.6,267.3 C236.85,268 238.8,268.6 240.4,268.6 C242,268.6 243.3,267.85 244.2,267.3 C245.1,266.75 245.53,265.63 245.8,265.3" fill="none" stroke="#7cbc5c" stroke-width="0.9"/>
<rect x="152.5" y="226.4" width="97.6" height="63.2" fill="none" stroke="#4a4a4a" stroke-width="0.6"/>
<line x1="152.5" y1="271.4" x2="250.1" y2="271.4" stroke="#9a9a9a" stroke-width="0.4"/>
<text x="150.3" y="231.3" font-size="6.1" text-anchor="end">0.6</text>
<text x="150.3" y="266.9" font-size="6.1" text-anchor="end">0</text>
<text x="200.8" y="223.8" font-size="6.1" text-anchor="middle">sh<tspan font-style="italic">Phf23</tspan>_DOWN</text>
<text x="215.4" y="246.3" font-size="5.9" textLength="27.9" lengthAdjust="spacingAndGlyphs">NES = 2.05</text>
<text x="215.4" y="253" font-size="5.9" textLength="33" lengthAdjust="spacingAndGlyphs">FDR <tspan font-style="italic">q</tspan> = 0.00</text>
<text x="152.3" y="297.6" font-size="6.3" textLength="30.4" lengthAdjust="spacingAndGlyphs">Chidamide</text>
<text x="251.5" y="297.6" font-size="6.4" text-anchor="end" textLength="18.8" lengthAdjust="spacingAndGlyphs">DMSO</text>
<text x="258.8" y="217.6" font-size="10.9" font-weight="bold" fill="#000">K</text>
<line x1="290.5" y1="224" x2="290.5" y2="283.3" stroke="#231f20" stroke-width="0.9"/>
<line x1="288.1" y1="283.1" x2="290.5" y2="283.1" stroke="#231f20" stroke-width="0.7"/>
<text x="287.1" y="285.22" font-size="5.9" text-anchor="end">0</text>
<line x1="288.1" y1="272.04" x2="290.5" y2="272.04" stroke="#231f20" stroke-width="0.7"/>
<text x="287.1" y="274.16" font-size="5.9" text-anchor="end">20</text>
<line x1="288.1" y1="260.98" x2="290.5" y2="260.98" stroke="#231f20" stroke-width="0.7"/>
<text x="287.1" y="263.1" font-size="5.9" text-anchor="end">40</text>
<line x1="288.1" y1="249.92" x2="290.5" y2="249.92" stroke="#231f20" stroke-width="0.7"/>
<text x="287.1" y="252.04" font-size="5.9" text-anchor="end">60</text>
<line x1="288.1" y1="238.86" x2="290.5" y2="238.86" stroke="#231f20" stroke-width="0.7"/>
<text x="287.1" y="240.98" font-size="5.9" text-anchor="end">80</text>
<line x1="288.1" y1="227.8" x2="290.5" y2="227.8" stroke="#231f20" stroke-width="0.7"/>
<text x="287.1" y="229.92" font-size="5.9" text-anchor="end">100</text>
<line x1="290" y1="283.5" x2="383.8" y2="283.5" stroke="#231f20" stroke-width="0.9"/>
<line x1="290" y1="283.5" x2="290" y2="285.7" stroke="#231f20" stroke-width="0.7"/>
<text x="290" y="292" font-size="5.9" text-anchor="middle">0</text>
<line x1="325.25" y1="283.5" x2="325.25" y2="285.7" stroke="#231f20" stroke-width="0.7"/>
<text x="325.25" y="292" font-size="5.9" text-anchor="middle">2</text>
<line x1="360.5" y1="283.5" x2="360.5" y2="285.7" stroke="#231f20" stroke-width="0.7"/>
<text x="360.5" y="292" font-size="5.9" text-anchor="middle">4</text>
<text x="337.1" y="301.6" font-size="6.15" text-anchor="middle" textLength="33.2" lengthAdjust="spacingAndGlyphs">Time (days)</text>
<text x="271.3" y="255.4" font-size="6.3" text-anchor="middle" transform="rotate(-90 271.3 255.4)" textLength="67" lengthAdjust="spacingAndGlyphs">Relative cell viability (%)</text>
<text x="326" y="224.2" font-size="6"><tspan font-style="italic">Phf23</tspan><tspan font-size="3.6" dy="-2.2">+/−</tspan></text>
<polyline points="290,227.8 325.25,260.98 360.5,274.81" fill="none" stroke="#5cbcdc" stroke-width="1"/>
<line x1="325.25" y1="262.64" x2="325.25" y2="259.32" stroke="#5cbcdc" stroke-width="0.6"/>
<line x1="323.85" y1="262.64" x2="326.65" y2="262.64" stroke="#5cbcdc" stroke-width="0.6"/>
<line x1="323.85" y1="259.32" x2="326.65" y2="259.32" stroke="#5cbcdc" stroke-width="0.6"/>
<line x1="360.5" y1="277.02" x2="360.5" y2="272.59" stroke="#5cbcdc" stroke-width="0.6"/>
<line x1="359.1" y1="277.02" x2="361.9" y2="277.02" stroke="#5cbcdc" stroke-width="0.6"/>
<line x1="359.1" y1="272.59" x2="361.9" y2="272.59" stroke="#5cbcdc" stroke-width="0.6"/>
<circle cx="290" cy="227.8" r="1.2" fill="#42879e"/>
<circle cx="325.25" cy="260.98" r="1.2" fill="#42879e"/>
<circle cx="360.5" cy="274.81" r="1.2" fill="#42879e"/>
<polyline points="290,227.8 325.25,258.22 360.5,267.62" fill="none" stroke="#2eb08c" stroke-width="1"/>
<line x1="325.25" y1="260.98" x2="325.25" y2="255.45" stroke="#2eb08c" stroke-width="0.6"/>
<line x1="323.85" y1="260.98" x2="326.65" y2="260.98" stroke="#2eb08c" stroke-width="0.6"/>
<line x1="323.85" y1="255.45" x2="326.65" y2="255.45" stroke="#2eb08c" stroke-width="0.6"/>
<line x1="360.5" y1="270.93" x2="360.5" y2="264.3" stroke="#2eb08c" stroke-width="0.6"/>
<line x1="359.1" y1="270.93" x2="361.9" y2="270.93" stroke="#2eb08c" stroke-width="0.6"/>
<line x1="359.1" y1="264.3" x2="361.9" y2="264.3" stroke="#2eb08c" stroke-width="0.6"/>
<circle cx="290" cy="227.8" r="1.2" fill="#217e64"/>
<circle cx="325.25" cy="258.22" r="1.2" fill="#217e64"/>
<circle cx="360.5" cy="267.62" r="1.2" fill="#217e64"/>
<polyline points="290,227.8 325.25,240.52 360.5,256.56" fill="none" stroke="#efab68" stroke-width="1"/>
<line x1="325.25" y1="242.18" x2="325.25" y2="238.86" stroke="#efab68" stroke-width="0.6"/>
<line x1="323.85" y1="242.18" x2="326.65" y2="242.18" stroke="#efab68" stroke-width="0.6"/>
<line x1="323.85" y1="238.86" x2="326.65" y2="238.86" stroke="#efab68" stroke-width="0.6"/>
<line x1="360.5" y1="258.77" x2="360.5" y2="254.34" stroke="#efab68" stroke-width="0.6"/>
<line x1="359.1" y1="258.77" x2="361.9" y2="258.77" stroke="#efab68" stroke-width="0.6"/>
<line x1="359.1" y1="254.34" x2="361.9" y2="254.34" stroke="#efab68" stroke-width="0.6"/>
<circle cx="290" cy="227.8" r="1.2" fill="#ac7b4a"/>
<circle cx="325.25" cy="240.52" r="1.2" fill="#ac7b4a"/>
<circle cx="360.5" cy="256.56" r="1.2" fill="#ac7b4a"/>
<polyline points="290,227.8 325.25,227.8 360.5,227.8" fill="none" stroke="#cf3f55" stroke-width="1"/>
<circle cx="290" cy="227.8" r="1.2" fill="#952d3d"/>
<circle cx="325.25" cy="227.8" r="1.2" fill="#952d3d"/>
<circle cx="360.5" cy="227.8" r="1.2" fill="#952d3d"/>
<polyline points="290,227.8 325.25,227.8 360.5,227.8" fill="none" stroke="#111111" stroke-width="1.1"/>
<circle cx="290" cy="227.8" r="1.2" fill="#0c0c0c"/>
<circle cx="325.25" cy="227.8" r="1.2" fill="#0c0c0c"/>
<circle cx="360.5" cy="227.8" r="1.2" fill="#0c0c0c"/>
<text x="357.5" y="235.5" font-size="6" text-anchor="middle" font-style="italic">ns</text>
<line x1="362.2" y1="227.5" x2="362.2" y2="258" stroke="#555" stroke-width="0.6"/>
<line x1="366.5" y1="227.2" x2="366.5" y2="268" stroke="#555" stroke-width="0.6"/>
<line x1="371.3" y1="226.3" x2="371.3" y2="275.6" stroke="#555" stroke-width="0.6"/>
<line x1="376.4" y1="257.2" x2="376.4" y2="268" stroke="#555" stroke-width="0.6"/>
<line x1="381" y1="257.2" x2="381" y2="275.6" stroke="#555" stroke-width="0.6"/>
<text x="360.14" y="244.85" font-size="7" text-anchor="middle" font-weight="bold" transform="rotate(90 360.14 244.85)" letter-spacing="0.9" class="s">***</text>
<text x="364.74" y="250.45" font-size="7" text-anchor="middle" font-weight="bold" transform="rotate(90 364.74 250.45)" letter-spacing="0.9" class="s">***</text>
<text x="369.44" y="255.15" font-size="7" text-anchor="middle" font-weight="bold" transform="rotate(90 369.44 255.15)" letter-spacing="0.9" class="s">***</text>
<text x="374.44" y="263.65" font-size="7" text-anchor="middle" font-weight="bold" transform="rotate(90 374.44 263.65)" letter-spacing="0.9" class="s">*</text>
<text x="379.14" y="267.15" font-size="7" text-anchor="middle" font-weight="bold" transform="rotate(90 379.14 267.15)" letter-spacing="0.9" class="s">***</text>
<line x1="292" y1="257.2" x2="298.5" y2="257.2" stroke="#111111" stroke-width="0.8"/>
<circle cx="295.25" cy="257.2" r="1.1" fill="#0c0c0c"/>
<text x="299.5" y="259.14" font-size="5.4">Vector</text>
<line x1="292" y1="262.85" x2="298.5" y2="262.85" stroke="#2eb08c" stroke-width="0.8"/>
<circle cx="295.25" cy="262.85" r="1.1" fill="#217e64"/>
<text x="299.5" y="264.79" font-size="5.4">Full length</text>
<line x1="292" y1="268.5" x2="298.5" y2="268.5" stroke="#cf3f55" stroke-width="0.8"/>
<circle cx="295.25" cy="268.5" r="1.1" fill="#952d3d"/>
<text x="299.5" y="270.44" font-size="5.4">ΔN</text>
<line x1="292" y1="274.15" x2="298.5" y2="274.15" stroke="#5cbcdc" stroke-width="0.8"/>
<circle cx="295.25" cy="274.15" r="1.1" fill="#42879e"/>
<text x="299.5" y="276.09" font-size="5.4">ΔCC</text>
<line x1="292" y1="279.8" x2="298.5" y2="279.8" stroke="#efab68" stroke-width="0.8"/>
<circle cx="295.25" cy="279.8" r="1.1" fill="#ac7b4a"/>
<text x="299.5" y="281.74" font-size="5.4">ΔPHD</text>
<text x="393" y="217.6" font-size="10.9" font-weight="bold" fill="#000">L</text>
<line x1="422.5" y1="224" x2="422.5" y2="283.3" stroke="#231f20" stroke-width="0.9"/>
<line x1="420.1" y1="283.1" x2="422.5" y2="283.1" stroke="#231f20" stroke-width="0.7"/>
<text x="419.1" y="285.22" font-size="5.9" text-anchor="end">0</text>
<line x1="420.1" y1="272.14" x2="422.5" y2="272.14" stroke="#231f20" stroke-width="0.7"/>
<text x="419.1" y="274.26" font-size="5.9" text-anchor="end">20</text>
<line x1="420.1" y1="261.18" x2="422.5" y2="261.18" stroke="#231f20" stroke-width="0.7"/>
<text x="419.1" y="263.3" font-size="5.9" text-anchor="end">40</text>
<line x1="420.1" y1="250.22" x2="422.5" y2="250.22" stroke="#231f20" stroke-width="0.7"/>
<text x="419.1" y="252.34" font-size="5.9" text-anchor="end">60</text>
<line x1="420.1" y1="239.26" x2="422.5" y2="239.26" stroke="#231f20" stroke-width="0.7"/>
<text x="419.1" y="241.38" font-size="5.9" text-anchor="end">80</text>
<line x1="420.1" y1="228.3" x2="422.5" y2="228.3" stroke="#231f20" stroke-width="0.7"/>
<text x="419.1" y="230.42" font-size="5.9" text-anchor="end">100</text>
<line x1="422.2" y1="283.5" x2="517.6" y2="283.5" stroke="#231f20" stroke-width="0.9"/>
<line x1="422.2" y1="283.5" x2="422.2" y2="285.7" stroke="#231f20" stroke-width="0.7"/>
<text x="422.2" y="292" font-size="5.9" text-anchor="middle">0</text>
<line x1="457.3" y1="283.5" x2="457.3" y2="285.7" stroke="#231f20" stroke-width="0.7"/>
<text x="457.3" y="292" font-size="5.9" text-anchor="middle">2</text>
<line x1="492.4" y1="283.5" x2="492.4" y2="285.7" stroke="#231f20" stroke-width="0.7"/>
<text x="492.4" y="292" font-size="5.9" text-anchor="middle">4</text>
<text x="470" y="301.6" font-size="6.15" text-anchor="middle" textLength="33.2" lengthAdjust="spacingAndGlyphs">Time (days)</text>
<text x="404.1" y="255.4" font-size="6.3" text-anchor="middle" transform="rotate(-90 404.1 255.4)" textLength="67" lengthAdjust="spacingAndGlyphs">Relative cell viability (%)</text>
<text x="458.7" y="224.2" font-size="6">11B3<tspan font-size="3.6" dy="-2.2">+/−</tspan></text>
<polyline points="422.2,228.3 457.3,245.84 492.4,254.6" fill="none" stroke="#5cbcdc" stroke-width="1"/>
<line x1="457.3" y1="247.48" x2="457.3" y2="244.19" stroke="#5cbcdc" stroke-width="0.6"/>
<line x1="455.9" y1="247.48" x2="458.7" y2="247.48" stroke="#5cbcdc" stroke-width="0.6"/>
<line x1="455.9" y1="244.19" x2="458.7" y2="244.19" stroke="#5cbcdc" stroke-width="0.6"/>
<line x1="492.4" y1="256.25" x2="492.4" y2="252.96" stroke="#5cbcdc" stroke-width="0.6"/>
<line x1="491" y1="256.25" x2="493.8" y2="256.25" stroke="#5cbcdc" stroke-width="0.6"/>
<line x1="491" y1="252.96" x2="493.8" y2="252.96" stroke="#5cbcdc" stroke-width="0.6"/>
<circle cx="422.2" cy="228.3" r="1.2" fill="#42879e"/>
<circle cx="457.3" cy="245.84" r="1.2" fill="#42879e"/>
<circle cx="492.4" cy="254.6" r="1.2" fill="#42879e"/>
<polyline points="422.2,228.3 457.3,245.84 492.4,255.15" fill="none" stroke="#2eb08c" stroke-width="1"/>
<line x1="457.3" y1="247.48" x2="457.3" y2="244.19" stroke="#2eb08c" stroke-width="0.6"/>
<line x1="455.9" y1="247.48" x2="458.7" y2="247.48" stroke="#2eb08c" stroke-width="0.6"/>
<line x1="455.9" y1="244.19" x2="458.7" y2="244.19" stroke="#2eb08c" stroke-width="0.6"/>
<line x1="492.4" y1="257.34" x2="492.4" y2="252.96" stroke="#2eb08c" stroke-width="0.6"/>
<line x1="491" y1="257.34" x2="493.8" y2="257.34" stroke="#2eb08c" stroke-width="0.6"/>
<line x1="491" y1="252.96" x2="493.8" y2="252.96" stroke="#2eb08c" stroke-width="0.6"/>
<circle cx="422.2" cy="228.3" r="1.2" fill="#217e64"/>
<circle cx="457.3" cy="245.84" r="1.2" fill="#217e64"/>
<circle cx="492.4" cy="255.15" r="1.2" fill="#217e64"/>
<polyline points="422.2,228.3 457.3,232.14 492.4,242" fill="none" stroke="#efab68" stroke-width="1"/>
<line x1="457.3" y1="233.78" x2="457.3" y2="230.49" stroke="#efab68" stroke-width="0.6"/>
<line x1="455.9" y1="233.78" x2="458.7" y2="233.78" stroke="#efab68" stroke-width="0.6"/>
<line x1="455.9" y1="230.49" x2="458.7" y2="230.49" stroke="#efab68" stroke-width="0.6"/>
<line x1="492.4" y1="243.64" x2="492.4" y2="240.36" stroke="#efab68" stroke-width="0.6"/>
<line x1="491" y1="243.64" x2="493.8" y2="243.64" stroke="#efab68" stroke-width="0.6"/>
<line x1="491" y1="240.36" x2="493.8" y2="240.36" stroke="#efab68" stroke-width="0.6"/>
<circle cx="422.2" cy="228.3" r="1.2" fill="#ac7b4a"/>
<circle cx="457.3" cy="232.14" r="1.2" fill="#ac7b4a"/>
<circle cx="492.4" cy="242" r="1.2" fill="#ac7b4a"/>
<polyline points="422.2,228.3 457.3,226.11 492.4,227.75" fill="none" stroke="#cf3f55" stroke-width="1"/>
<circle cx="422.2" cy="228.3" r="1.2" fill="#952d3d"/>
<circle cx="457.3" cy="226.11" r="1.2" fill="#952d3d"/>
<circle cx="492.4" cy="227.75" r="1.2" fill="#952d3d"/>
<polyline points="422.2,228.3 457.3,228.3 492.4,228.3" fill="none" stroke="#111111" stroke-width="1.1"/>
<line x1="457.3" y1="230.49" x2="457.3" y2="226.11" stroke="#111111" stroke-width="0.6"/>
<line x1="455.9" y1="230.49" x2="458.7" y2="230.49" stroke="#111111" stroke-width="0.6"/>
<line x1="455.9" y1="226.11" x2="458.7" y2="226.11" stroke="#111111" stroke-width="0.6"/>
<circle cx="422.2" cy="228.3" r="1.2" fill="#0c0c0c"/>
<circle cx="457.3" cy="228.3" r="1.2" fill="#0c0c0c"/>
<circle cx="492.4" cy="228.3" r="1.2" fill="#0c0c0c"/>
<text x="489.2" y="235.7" font-size="6" text-anchor="middle">ns</text>
<line x1="494.2" y1="228" x2="494.2" y2="240.9" stroke="#555" stroke-width="0.6"/>
<line x1="498.2" y1="227.5" x2="498.2" y2="253.8" stroke="#555" stroke-width="0.6"/>
<line x1="503.4" y1="227.5" x2="503.4" y2="256.4" stroke="#555" stroke-width="0.6"/>
<line x1="508" y1="240.9" x2="508" y2="253.8" stroke="#555" stroke-width="0.6"/>
<line x1="512" y1="240.9" x2="512" y2="256.4" stroke="#555" stroke-width="0.6"/>
<text x="492.14" y="236.45" font-size="7" text-anchor="middle" font-weight="bold" transform="rotate(90 492.14 236.45)" letter-spacing="0.9" class="s">***</text>
<text x="496.44" y="244.45" font-size="7" text-anchor="middle" font-weight="bold" transform="rotate(90 496.44 244.45)" letter-spacing="0.9" class="s">***</text>
<text x="501.24" y="246.95" font-size="7" text-anchor="middle" font-weight="bold" transform="rotate(90 501.24 246.95)" letter-spacing="0.9" class="s">***</text>
<text x="505.94" y="249.15" font-size="7" text-anchor="middle" font-weight="bold" transform="rotate(90 505.94 249.15)" letter-spacing="0.9" class="s">**</text>
<text x="510.54" y="250.45" font-size="7" text-anchor="middle" font-weight="bold" transform="rotate(90 510.54 250.45)" letter-spacing="0.9" class="s">***</text>
<line x1="426.4" y1="257.2" x2="432.5" y2="257.2" stroke="#111111" stroke-width="0.8"/>
<circle cx="429.45" cy="257.2" r="1.1" fill="#0c0c0c"/>
<text x="435" y="259.14" font-size="5.4">Vector</text>
<line x1="426.4" y1="262.85" x2="432.5" y2="262.85" stroke="#2eb08c" stroke-width="0.8"/>
<circle cx="429.45" cy="262.85" r="1.1" fill="#217e64"/>
<text x="435" y="264.79" font-size="5.4">Full length</text>
<line x1="426.4" y1="268.5" x2="432.5" y2="268.5" stroke="#cf3f55" stroke-width="0.8"/>
<circle cx="429.45" cy="268.5" r="1.1" fill="#952d3d"/>
<text x="435" y="270.44" font-size="5.4">ΔN</text>
<line x1="426.4" y1="274.15" x2="432.5" y2="274.15" stroke="#5cbcdc" stroke-width="0.8"/>
<circle cx="429.45" cy="274.15" r="1.1" fill="#42879e"/>
<text x="435" y="276.09" font-size="5.4">ΔCC</text>
<line x1="426.4" y1="279.8" x2="432.5" y2="279.8" stroke="#efab68" stroke-width="0.8"/>
<circle cx="429.45" cy="279.8" r="1.1" fill="#ac7b4a"/>
<text x="435" y="281.74" font-size="5.4">ΔPHD</text>
<text x="0.6" y="317.5" font-size="10.9" font-weight="bold" fill="#000">M</text>
<line x1="31.5" y1="327" x2="31.5" y2="387.6" stroke="#231f20" stroke-width="0.9"/>
<line x1="29.1" y1="387.6" x2="31.5" y2="387.6" stroke="#231f20" stroke-width="0.7"/>
<text x="28.1" y="389.72" font-size="5.9" text-anchor="end">0</text>
<line x1="29.1" y1="369.5" x2="31.5" y2="369.5" stroke="#231f20" stroke-width="0.7"/>
<text x="28.1" y="371.62" font-size="5.9" text-anchor="end">50</text>
<line x1="29.1" y1="351.4" x2="31.5" y2="351.4" stroke="#231f20" stroke-width="0.7"/>
<text x="28.1" y="353.52" font-size="5.9" text-anchor="end">100</text>
<line x1="29.1" y1="333.3" x2="31.5" y2="333.3" stroke="#231f20" stroke-width="0.7"/>
<text x="28.1" y="335.42" font-size="5.9" text-anchor="end">150</text>
<line x1="31.6" y1="387.5" x2="124.5" y2="387.5" stroke="#231f20" stroke-width="0.9"/>
<line x1="31.6" y1="387.5" x2="31.6" y2="389.7" stroke="#231f20" stroke-width="0.7"/>
<text x="31.6" y="396.1" font-size="5.9" text-anchor="middle">0</text>
<line x1="50.08" y1="387.5" x2="50.08" y2="389.7" stroke="#231f20" stroke-width="0.7"/>
<text x="50.08" y="396.1" font-size="5.9" text-anchor="middle">2</text>
<line x1="68.56" y1="387.5" x2="68.56" y2="389.7" stroke="#231f20" stroke-width="0.7"/>
<text x="68.56" y="396.1" font-size="5.9" text-anchor="middle">4</text>
<line x1="87.04" y1="387.5" x2="87.04" y2="389.7" stroke="#231f20" stroke-width="0.7"/>
<text x="87.04" y="396.1" font-size="5.9" text-anchor="middle">6</text>
<line x1="105.52" y1="387.5" x2="105.52" y2="389.7" stroke="#231f20" stroke-width="0.7"/>
<text x="105.52" y="396.1" font-size="5.9" text-anchor="middle">8</text>
<line x1="124" y1="387.5" x2="124" y2="389.7" stroke="#231f20" stroke-width="0.7"/>
<text x="124" y="396.1" font-size="5.9" text-anchor="middle">10</text>
<text x="78.4" y="405" font-size="6.15" text-anchor="middle" textLength="31.3" lengthAdjust="spacingAndGlyphs">Time (days)</text>
<text x="12.3" y="360.5" font-size="6.3" text-anchor="middle" transform="rotate(-90 12.3 360.5)" textLength="68" lengthAdjust="spacingAndGlyphs">Relative cell viability (%)</text>
<text x="71.5" y="326.6" font-size="6" textLength="8" lengthAdjust="spacingAndGlyphs">Ri1</text>
<polyline points="31.6,351.4 50.08,350.68 68.56,356.83 87.04,344.88 105.52,339.82" fill="none" stroke="#2eb08c" stroke-width="1"/>
<line x1="31.6" y1="355.02" x2="31.6" y2="347.78" stroke="#2eb08c" stroke-width="0.6"/>
<line x1="30.2" y1="355.02" x2="33" y2="355.02" stroke="#2eb08c" stroke-width="0.6"/>
<line x1="30.2" y1="347.78" x2="33" y2="347.78" stroke="#2eb08c" stroke-width="0.6"/>
<line x1="50.08" y1="353.57" x2="50.08" y2="347.78" stroke="#2eb08c" stroke-width="0.6"/>
<line x1="48.68" y1="353.57" x2="51.48" y2="353.57" stroke="#2eb08c" stroke-width="0.6"/>
<line x1="48.68" y1="347.78" x2="51.48" y2="347.78" stroke="#2eb08c" stroke-width="0.6"/>
<line x1="68.56" y1="359.73" x2="68.56" y2="353.93" stroke="#2eb08c" stroke-width="0.6"/>
<line x1="67.16" y1="359.73" x2="69.96" y2="359.73" stroke="#2eb08c" stroke-width="0.6"/>
<line x1="67.16" y1="353.93" x2="69.96" y2="353.93" stroke="#2eb08c" stroke-width="0.6"/>
<line x1="87.04" y1="347.78" x2="87.04" y2="341.99" stroke="#2eb08c" stroke-width="0.6"/>
<line x1="85.64" y1="347.78" x2="88.44" y2="347.78" stroke="#2eb08c" stroke-width="0.6"/>
<line x1="85.64" y1="341.99" x2="88.44" y2="341.99" stroke="#2eb08c" stroke-width="0.6"/>
<line x1="105.52" y1="341.99" x2="105.52" y2="337.64" stroke="#2eb08c" stroke-width="0.6"/>
<line x1="104.12" y1="341.99" x2="106.92" y2="341.99" stroke="#2eb08c" stroke-width="0.6"/>
<line x1="104.12" y1="337.64" x2="106.92" y2="337.64" stroke="#2eb08c" stroke-width="0.6"/>
<circle cx="31.6" cy="351.4" r="1.2" fill="#217e64"/>
<circle cx="50.08" cy="350.68" r="1.2" fill="#217e64"/>
<circle cx="68.56" cy="356.83" r="1.2" fill="#217e64"/>
<circle cx="87.04" cy="344.88" r="1.2" fill="#217e64"/>
<circle cx="105.52" cy="339.82" r="1.2" fill="#217e64"/>
<polyline points="31.6,351.4 50.08,347.06 68.56,350.31 87.04,341.26 105.52,336.2" fill="none" stroke="#efab68" stroke-width="1"/>
<line x1="31.6" y1="353.21" x2="31.6" y2="349.59" stroke="#efab68" stroke-width="0.6"/>
<line x1="30.2" y1="353.21" x2="33" y2="353.21" stroke="#efab68" stroke-width="0.6"/>
<line x1="30.2" y1="349.59" x2="33" y2="349.59" stroke="#efab68" stroke-width="0.6"/>
<line x1="50.08" y1="350.68" x2="50.08" y2="343.44" stroke="#efab68" stroke-width="0.6"/>
<line x1="48.68" y1="350.68" x2="51.48" y2="350.68" stroke="#efab68" stroke-width="0.6"/>
<line x1="48.68" y1="343.44" x2="51.48" y2="343.44" stroke="#efab68" stroke-width="0.6"/>
<line x1="68.56" y1="352.49" x2="68.56" y2="348.14" stroke="#efab68" stroke-width="0.6"/>
<line x1="67.16" y1="352.49" x2="69.96" y2="352.49" stroke="#efab68" stroke-width="0.6"/>
<line x1="67.16" y1="348.14" x2="69.96" y2="348.14" stroke="#efab68" stroke-width="0.6"/>
<line x1="87.04" y1="344.88" x2="87.04" y2="337.64" stroke="#efab68" stroke-width="0.6"/>
<line x1="85.64" y1="344.88" x2="88.44" y2="344.88" stroke="#efab68" stroke-width="0.6"/>
<line x1="85.64" y1="337.64" x2="88.44" y2="337.64" stroke="#efab68" stroke-width="0.6"/>
<line x1="105.52" y1="340.54" x2="105.52" y2="331.85" stroke="#efab68" stroke-width="0.6"/>
<line x1="104.12" y1="340.54" x2="106.92" y2="340.54" stroke="#efab68" stroke-width="0.6"/>
<line x1="104.12" y1="331.85" x2="106.92" y2="331.85" stroke="#efab68" stroke-width="0.6"/>
<circle cx="31.6" cy="351.4" r="1.2" fill="#ac7b4a"/>
<circle cx="50.08" cy="347.06" r="1.2" fill="#ac7b4a"/>
<circle cx="68.56" cy="350.31" r="1.2" fill="#ac7b4a"/>
<circle cx="87.04" cy="341.26" r="1.2" fill="#ac7b4a"/>
<circle cx="105.52" cy="336.2" r="1.2" fill="#ac7b4a"/>
<polyline points="31.6,351.4 50.08,341.26 68.56,349.59 87.04,338.73 105.52,334.02" fill="none" stroke="#cf3f55" stroke-width="1"/>
<line x1="31.6" y1="353.21" x2="31.6" y2="349.59" stroke="#cf3f55" stroke-width="0.6"/>
<line x1="30.2" y1="353.21" x2="33" y2="353.21" stroke="#cf3f55" stroke-width="0.6"/>
<line x1="30.2" y1="349.59" x2="33" y2="349.59" stroke="#cf3f55" stroke-width="0.6"/>
<line x1="50.08" y1="351.04" x2="50.08" y2="331.49" stroke="#cf3f55" stroke-width="0.6"/>
<line x1="48.68" y1="351.04" x2="51.48" y2="351.04" stroke="#cf3f55" stroke-width="0.6"/>
<line x1="48.68" y1="331.49" x2="51.48" y2="331.49" stroke="#cf3f55" stroke-width="0.6"/>
<line x1="68.56" y1="352.49" x2="68.56" y2="346.69" stroke="#cf3f55" stroke-width="0.6"/>
<line x1="67.16" y1="352.49" x2="69.96" y2="352.49" stroke="#cf3f55" stroke-width="0.6"/>
<line x1="67.16" y1="346.69" x2="69.96" y2="346.69" stroke="#cf3f55" stroke-width="0.6"/>
<line x1="87.04" y1="343.8" x2="87.04" y2="333.66" stroke="#cf3f55" stroke-width="0.6"/>
<line x1="85.64" y1="343.8" x2="88.44" y2="343.8" stroke="#cf3f55" stroke-width="0.6"/>
<line x1="85.64" y1="333.66" x2="88.44" y2="333.66" stroke="#cf3f55" stroke-width="0.6"/>
<line x1="105.52" y1="340.18" x2="105.52" y2="327.87" stroke="#cf3f55" stroke-width="0.6"/>
<line x1="104.12" y1="340.18" x2="106.92" y2="340.18" stroke="#cf3f55" stroke-width="0.6"/>
<line x1="104.12" y1="327.87" x2="106.92" y2="327.87" stroke="#cf3f55" stroke-width="0.6"/>
<circle cx="31.6" cy="351.4" r="1.2" fill="#952d3d"/>
<circle cx="50.08" cy="341.26" r="1.2" fill="#952d3d"/>
<circle cx="68.56" cy="349.59" r="1.2" fill="#952d3d"/>
<circle cx="87.04" cy="338.73" r="1.2" fill="#952d3d"/>
<circle cx="105.52" cy="334.02" r="1.2" fill="#952d3d"/>
<polyline points="31.6,351.4 50.08,351.4 68.56,351.4 87.04,351.4 105.52,351.4" fill="none" stroke="#111111" stroke-width="1.1"/>
<line x1="31.6" y1="355.74" x2="31.6" y2="347.06" stroke="#111111" stroke-width="0.6"/>
<line x1="30.2" y1="355.74" x2="33" y2="355.74" stroke="#111111" stroke-width="0.6"/>
<line x1="30.2" y1="347.06" x2="33" y2="347.06" stroke="#111111" stroke-width="0.6"/>
<line x1="50.08" y1="355.02" x2="50.08" y2="347.78" stroke="#111111" stroke-width="0.6"/>
<line x1="48.68" y1="355.02" x2="51.48" y2="355.02" stroke="#111111" stroke-width="0.6"/>
<line x1="48.68" y1="347.78" x2="51.48" y2="347.78" stroke="#111111" stroke-width="0.6"/>
<line x1="68.56" y1="352.85" x2="68.56" y2="349.95" stroke="#111111" stroke-width="0.6"/>
<line x1="67.16" y1="352.85" x2="69.96" y2="352.85" stroke="#111111" stroke-width="0.6"/>
<line x1="67.16" y1="349.95" x2="69.96" y2="349.95" stroke="#111111" stroke-width="0.6"/>
<line x1="87.04" y1="358.64" x2="87.04" y2="344.16" stroke="#111111" stroke-width="0.6"/>
<line x1="85.64" y1="358.64" x2="88.44" y2="358.64" stroke="#111111" stroke-width="0.6"/>
<line x1="85.64" y1="344.16" x2="88.44" y2="344.16" stroke="#111111" stroke-width="0.6"/>
<line x1="105.52" y1="358.64" x2="105.52" y2="344.16" stroke="#111111" stroke-width="0.6"/>
<line x1="104.12" y1="358.64" x2="106.92" y2="358.64" stroke="#111111" stroke-width="0.6"/>
<line x1="104.12" y1="344.16" x2="106.92" y2="344.16" stroke="#111111" stroke-width="0.6"/>
<circle cx="31.6" cy="351.4" r="1.2" fill="#0c0c0c"/>
<circle cx="50.08" cy="351.4" r="1.2" fill="#0c0c0c"/>
<circle cx="68.56" cy="351.4" r="1.2" fill="#0c0c0c"/>
<circle cx="87.04" cy="351.4" r="1.2" fill="#0c0c0c"/>
<circle cx="105.52" cy="351.4" r="1.2" fill="#0c0c0c"/>
<line x1="109.4" y1="338.5" x2="109.4" y2="351.7" stroke="#555" stroke-width="0.6"/>
<line x1="116" y1="333.3" x2="116" y2="351.7" stroke="#555" stroke-width="0.6"/>
<text x="113" y="347.6" font-size="6" text-anchor="middle">ns</text>
<text x="119.3" y="346" font-size="6.5" text-anchor="middle" font-weight="bold">*</text>
<line x1="33.8" y1="366.9" x2="40.5" y2="366.9" stroke="#111111" stroke-width="0.8"/>
<circle cx="37.15" cy="366.9" r="1.1" fill="#0c0c0c"/>
<text x="42.2" y="368.84" font-size="5.4">Vector</text>
<line x1="33.8" y1="372.75" x2="40.5" y2="372.75" stroke="#2eb08c" stroke-width="0.8"/>
<circle cx="37.15" cy="372.75" r="1.1" fill="#217e64"/>
<text x="42.2" y="374.69" font-size="5.4">Full length</text>
<line x1="33.8" y1="378.6" x2="40.5" y2="378.6" stroke="#cf3f55" stroke-width="0.8"/>
<circle cx="37.15" cy="378.6" r="1.1" fill="#952d3d"/>
<text x="42.2" y="380.54" font-size="5.4">ΔN</text>
<line x1="33.8" y1="384.45" x2="40.5" y2="384.45" stroke="#efab68" stroke-width="0.8"/>
<circle cx="37.15" cy="384.45" r="1.1" fill="#ac7b4a"/>
<text x="42.2" y="386.39" font-size="5.4">ΔPHD</text>
<text x="132.2" y="317.5" font-size="10.9" font-weight="bold" fill="#000">N</text>
<line x1="160.5" y1="327" x2="160.5" y2="387.6" stroke="#231f20" stroke-width="0.9"/>
<line x1="158.1" y1="387.6" x2="160.5" y2="387.6" stroke="#231f20" stroke-width="0.7"/>
<text x="157.1" y="389.72" font-size="5.9" text-anchor="end">0</text>
<line x1="158.1" y1="378.84" x2="160.5" y2="378.84" stroke="#231f20" stroke-width="0.7"/>
<text x="157.1" y="380.97" font-size="5.9" text-anchor="end">20</text>
<line x1="158.1" y1="370.09" x2="160.5" y2="370.09" stroke="#231f20" stroke-width="0.7"/>
<text x="157.1" y="372.21" font-size="5.9" text-anchor="end">40</text>
<line x1="158.1" y1="361.33" x2="160.5" y2="361.33" stroke="#231f20" stroke-width="0.7"/>
<text x="157.1" y="363.45" font-size="5.9" text-anchor="end">60</text>
<line x1="158.1" y1="352.57" x2="160.5" y2="352.57" stroke="#231f20" stroke-width="0.7"/>
<text x="157.1" y="354.7" font-size="5.9" text-anchor="end">80</text>
<line x1="158.1" y1="343.81" x2="160.5" y2="343.81" stroke="#231f20" stroke-width="0.7"/>
<text x="157.1" y="345.94" font-size="5.9" text-anchor="end">100</text>
<line x1="158.1" y1="335.06" x2="160.5" y2="335.06" stroke="#231f20" stroke-width="0.7"/>
<text x="157.1" y="337.18" font-size="5.9" text-anchor="end">120</text>
<line x1="158.1" y1="326.3" x2="160.5" y2="326.3" stroke="#231f20" stroke-width="0.7"/>
<text x="157.1" y="328.42" font-size="5.9" text-anchor="end">140</text>
<line x1="160.5" y1="387.5" x2="253.2" y2="387.5" stroke="#231f20" stroke-width="0.9"/>
<line x1="160.5" y1="387.5" x2="160.5" y2="389.7" stroke="#231f20" stroke-width="0.7"/>
<text x="160.5" y="396.1" font-size="5.9" text-anchor="middle">0</text>
<line x1="178.9" y1="387.5" x2="178.9" y2="389.7" stroke="#231f20" stroke-width="0.7"/>
<text x="178.9" y="396.1" font-size="5.9" text-anchor="middle">2</text>
<line x1="197.3" y1="387.5" x2="197.3" y2="389.7" stroke="#231f20" stroke-width="0.7"/>
<text x="197.3" y="396.1" font-size="5.9" text-anchor="middle">4</text>
<line x1="215.7" y1="387.5" x2="215.7" y2="389.7" stroke="#231f20" stroke-width="0.7"/>
<text x="215.7" y="396.1" font-size="5.9" text-anchor="middle">6</text>
<line x1="234.1" y1="387.5" x2="234.1" y2="389.7" stroke="#231f20" stroke-width="0.7"/>
<text x="234.1" y="396.1" font-size="5.9" text-anchor="middle">8</text>
<line x1="252.5" y1="387.5" x2="252.5" y2="389.7" stroke="#231f20" stroke-width="0.7"/>
<text x="252.5" y="396.1" font-size="5.9" text-anchor="middle">10</text>
<text x="207.3" y="405" font-size="6.15" text-anchor="middle" textLength="31.3" lengthAdjust="spacingAndGlyphs">Time (days)</text>
<text x="141.6" y="357.5" font-size="6.3" text-anchor="middle" transform="rotate(-90 141.6 357.5)" textLength="68" lengthAdjust="spacingAndGlyphs">Relative cell viability (%)</text>
<text x="197" y="326.6" font-size="6" font-style="italic" textLength="26.3" lengthAdjust="spacingAndGlyphs">Namalwa</text>
<polyline points="160.5,343.81 178.9,341.62 197.3,334.18 215.7,334.18 234.1,342.94" fill="none" stroke="#2eb08c" stroke-width="1"/>
<line x1="160.5" y1="348.19" x2="160.5" y2="339.44" stroke="#2eb08c" stroke-width="0.6"/>
<line x1="159.1" y1="348.19" x2="161.9" y2="348.19" stroke="#2eb08c" stroke-width="0.6"/>
<line x1="159.1" y1="339.44" x2="161.9" y2="339.44" stroke="#2eb08c" stroke-width="0.6"/>
<line x1="178.9" y1="345.13" x2="178.9" y2="338.12" stroke="#2eb08c" stroke-width="0.6"/>
<line x1="177.5" y1="345.13" x2="180.3" y2="345.13" stroke="#2eb08c" stroke-width="0.6"/>
<line x1="177.5" y1="338.12" x2="180.3" y2="338.12" stroke="#2eb08c" stroke-width="0.6"/>
<line x1="197.3" y1="335.5" x2="197.3" y2="332.87" stroke="#2eb08c" stroke-width="0.6"/>
<line x1="195.9" y1="335.5" x2="198.7" y2="335.5" stroke="#2eb08c" stroke-width="0.6"/>
<line x1="195.9" y1="332.87" x2="198.7" y2="332.87" stroke="#2eb08c" stroke-width="0.6"/>
<line x1="215.7" y1="335.93" x2="215.7" y2="332.43" stroke="#2eb08c" stroke-width="0.6"/>
<line x1="214.3" y1="335.93" x2="217.1" y2="335.93" stroke="#2eb08c" stroke-width="0.6"/>
<line x1="214.3" y1="332.43" x2="217.1" y2="332.43" stroke="#2eb08c" stroke-width="0.6"/>
<line x1="234.1" y1="345.57" x2="234.1" y2="340.31" stroke="#2eb08c" stroke-width="0.6"/>
<line x1="232.7" y1="345.57" x2="235.5" y2="345.57" stroke="#2eb08c" stroke-width="0.6"/>
<line x1="232.7" y1="340.31" x2="235.5" y2="340.31" stroke="#2eb08c" stroke-width="0.6"/>
<circle cx="160.5" cy="343.81" r="1.2" fill="#217e64"/>
<circle cx="178.9" cy="341.62" r="1.2" fill="#217e64"/>
<circle cx="197.3" cy="334.18" r="1.2" fill="#217e64"/>
<circle cx="215.7" cy="334.18" r="1.2" fill="#217e64"/>
<circle cx="234.1" cy="342.94" r="1.2" fill="#217e64"/>
<polyline points="160.5,343.81 178.9,349.51 197.3,345.13 215.7,346 234.1,351.26" fill="none" stroke="#efab68" stroke-width="1"/>
<line x1="160.5" y1="346" x2="160.5" y2="341.62" stroke="#efab68" stroke-width="0.6"/>
<line x1="159.1" y1="346" x2="161.9" y2="346" stroke="#efab68" stroke-width="0.6"/>
<line x1="159.1" y1="341.62" x2="161.9" y2="341.62" stroke="#efab68" stroke-width="0.6"/>
<line x1="178.9" y1="352.13" x2="178.9" y2="346.88" stroke="#efab68" stroke-width="0.6"/>
<line x1="177.5" y1="352.13" x2="180.3" y2="352.13" stroke="#efab68" stroke-width="0.6"/>
<line x1="177.5" y1="346.88" x2="180.3" y2="346.88" stroke="#efab68" stroke-width="0.6"/>
<line x1="197.3" y1="347.75" x2="197.3" y2="342.5" stroke="#efab68" stroke-width="0.6"/>
<line x1="195.9" y1="347.75" x2="198.7" y2="347.75" stroke="#efab68" stroke-width="0.6"/>
<line x1="195.9" y1="342.5" x2="198.7" y2="342.5" stroke="#efab68" stroke-width="0.6"/>
<line x1="215.7" y1="348.63" x2="215.7" y2="343.38" stroke="#efab68" stroke-width="0.6"/>
<line x1="214.3" y1="348.63" x2="217.1" y2="348.63" stroke="#efab68" stroke-width="0.6"/>
<line x1="214.3" y1="343.38" x2="217.1" y2="343.38" stroke="#efab68" stroke-width="0.6"/>
<line x1="234.1" y1="354.76" x2="234.1" y2="347.75" stroke="#efab68" stroke-width="0.6"/>
<line x1="232.7" y1="354.76" x2="235.5" y2="354.76" stroke="#efab68" stroke-width="0.6"/>
<line x1="232.7" y1="347.75" x2="235.5" y2="347.75" stroke="#efab68" stroke-width="0.6"/>
<circle cx="160.5" cy="343.81" r="1.2" fill="#ac7b4a"/>
<circle cx="178.9" cy="349.51" r="1.2" fill="#ac7b4a"/>
<circle cx="197.3" cy="345.13" r="1.2" fill="#ac7b4a"/>
<circle cx="215.7" cy="346" r="1.2" fill="#ac7b4a"/>
<circle cx="234.1" cy="351.26" r="1.2" fill="#ac7b4a"/>
<polyline points="160.5,343.81 178.9,345.13 197.3,349.07 215.7,343.81 234.1,338.56" fill="none" stroke="#cf3f55" stroke-width="1"/>
<line x1="160.5" y1="346" x2="160.5" y2="341.62" stroke="#cf3f55" stroke-width="0.6"/>
<line x1="159.1" y1="346" x2="161.9" y2="346" stroke="#cf3f55" stroke-width="0.6"/>
<line x1="159.1" y1="341.62" x2="161.9" y2="341.62" stroke="#cf3f55" stroke-width="0.6"/>
<line x1="178.9" y1="347.32" x2="178.9" y2="342.94" stroke="#cf3f55" stroke-width="0.6"/>
<line x1="177.5" y1="347.32" x2="180.3" y2="347.32" stroke="#cf3f55" stroke-width="0.6"/>
<line x1="177.5" y1="342.94" x2="180.3" y2="342.94" stroke="#cf3f55" stroke-width="0.6"/>
<line x1="197.3" y1="355.64" x2="197.3" y2="342.5" stroke="#cf3f55" stroke-width="0.6"/>
<line x1="195.9" y1="355.64" x2="198.7" y2="355.64" stroke="#cf3f55" stroke-width="0.6"/>
<line x1="195.9" y1="342.5" x2="198.7" y2="342.5" stroke="#cf3f55" stroke-width="0.6"/>
<line x1="215.7" y1="346.44" x2="215.7" y2="341.19" stroke="#cf3f55" stroke-width="0.6"/>
<line x1="214.3" y1="346.44" x2="217.1" y2="346.44" stroke="#cf3f55" stroke-width="0.6"/>
<line x1="214.3" y1="341.19" x2="217.1" y2="341.19" stroke="#cf3f55" stroke-width="0.6"/>
<line x1="234.1" y1="346.44" x2="234.1" y2="330.68" stroke="#cf3f55" stroke-width="0.6"/>
<line x1="232.7" y1="346.44" x2="235.5" y2="346.44" stroke="#cf3f55" stroke-width="0.6"/>
<line x1="232.7" y1="330.68" x2="235.5" y2="330.68" stroke="#cf3f55" stroke-width="0.6"/>
<circle cx="160.5" cy="343.81" r="1.2" fill="#952d3d"/>
<circle cx="178.9" cy="345.13" r="1.2" fill="#952d3d"/>
<circle cx="197.3" cy="349.07" r="1.2" fill="#952d3d"/>
<circle cx="215.7" cy="343.81" r="1.2" fill="#952d3d"/>
<circle cx="234.1" cy="338.56" r="1.2" fill="#952d3d"/>
<polyline points="160.5,343.81 178.9,343.81 197.3,343.81 215.7,343.81 234.1,343.81" fill="none" stroke="#111111" stroke-width="1.1"/>
<line x1="160.5" y1="347.32" x2="160.5" y2="340.31" stroke="#111111" stroke-width="0.6"/>
<line x1="159.1" y1="347.32" x2="161.9" y2="347.32" stroke="#111111" stroke-width="0.6"/>
<line x1="159.1" y1="340.31" x2="161.9" y2="340.31" stroke="#111111" stroke-width="0.6"/>
<line x1="178.9" y1="346.44" x2="178.9" y2="341.19" stroke="#111111" stroke-width="0.6"/>
<line x1="177.5" y1="346.44" x2="180.3" y2="346.44" stroke="#111111" stroke-width="0.6"/>
<line x1="177.5" y1="341.19" x2="180.3" y2="341.19" stroke="#111111" stroke-width="0.6"/>
<line x1="197.3" y1="346" x2="197.3" y2="341.62" stroke="#111111" stroke-width="0.6"/>
<line x1="195.9" y1="346" x2="198.7" y2="346" stroke="#111111" stroke-width="0.6"/>
<line x1="195.9" y1="341.62" x2="198.7" y2="341.62" stroke="#111111" stroke-width="0.6"/>
<line x1="215.7" y1="347.32" x2="215.7" y2="340.31" stroke="#111111" stroke-width="0.6"/>
<line x1="214.3" y1="347.32" x2="217.1" y2="347.32" stroke="#111111" stroke-width="0.6"/>
<line x1="214.3" y1="340.31" x2="217.1" y2="340.31" stroke="#111111" stroke-width="0.6"/>
<line x1="234.1" y1="348.19" x2="234.1" y2="339.44" stroke="#111111" stroke-width="0.6"/>
<line x1="232.7" y1="348.19" x2="235.5" y2="348.19" stroke="#111111" stroke-width="0.6"/>
<line x1="232.7" y1="339.44" x2="235.5" y2="339.44" stroke="#111111" stroke-width="0.6"/>
<circle cx="160.5" cy="343.81" r="1.2" fill="#0c0c0c"/>
<circle cx="178.9" cy="343.81" r="1.2" fill="#0c0c0c"/>
<circle cx="197.3" cy="343.81" r="1.2" fill="#0c0c0c"/>
<circle cx="215.7" cy="343.81" r="1.2" fill="#0c0c0c"/>
<circle cx="234.1" cy="343.81" r="1.2" fill="#0c0c0c"/>
<text x="237.1" y="346" font-size="6">ns</text>
<line x1="162.2" y1="366.9" x2="169" y2="366.9" stroke="#111111" stroke-width="0.8"/>
<circle cx="165.6" cy="366.9" r="1.1" fill="#0c0c0c"/>
<text x="170.8" y="368.84" font-size="5.4">Vector</text>
<line x1="162.2" y1="372.75" x2="169" y2="372.75" stroke="#2eb08c" stroke-width="0.8"/>
<circle cx="165.6" cy="372.75" r="1.1" fill="#217e64"/>
<text x="170.8" y="374.69" font-size="5.4">Full length</text>
<line x1="162.2" y1="378.6" x2="169" y2="378.6" stroke="#cf3f55" stroke-width="0.8"/>
<circle cx="165.6" cy="378.6" r="1.1" fill="#952d3d"/>
<text x="170.8" y="380.54" font-size="5.4">ΔN</text>
<line x1="162.2" y1="384.45" x2="169" y2="384.45" stroke="#efab68" stroke-width="0.8"/>
<circle cx="165.6" cy="384.45" r="1.1" fill="#ac7b4a"/>
<text x="170.8" y="386.39" font-size="5.4">ΔPHD</text>
<text x="258.9" y="317.5" font-size="10.9" font-weight="bold" fill="#000">O</text>
<line x1="289.5" y1="327" x2="289.5" y2="387.6" stroke="#231f20" stroke-width="0.9"/>
<line x1="287.1" y1="387.6" x2="289.5" y2="387.6" stroke="#231f20" stroke-width="0.7"/>
<text x="286.1" y="389.72" font-size="5.9" text-anchor="end">0</text>
<line x1="287.1" y1="378.84" x2="289.5" y2="378.84" stroke="#231f20" stroke-width="0.7"/>
<text x="286.1" y="380.97" font-size="5.9" text-anchor="end">20</text>
<line x1="287.1" y1="370.09" x2="289.5" y2="370.09" stroke="#231f20" stroke-width="0.7"/>
<text x="286.1" y="372.21" font-size="5.9" text-anchor="end">40</text>
<line x1="287.1" y1="361.33" x2="289.5" y2="361.33" stroke="#231f20" stroke-width="0.7"/>
<text x="286.1" y="363.45" font-size="5.9" text-anchor="end">60</text>
<line x1="287.1" y1="352.57" x2="289.5" y2="352.57" stroke="#231f20" stroke-width="0.7"/>
<text x="286.1" y="354.7" font-size="5.9" text-anchor="end">80</text>
<line x1="287.1" y1="343.81" x2="289.5" y2="343.81" stroke="#231f20" stroke-width="0.7"/>
<text x="286.1" y="345.94" font-size="5.9" text-anchor="end">100</text>
<line x1="287.1" y1="335.06" x2="289.5" y2="335.06" stroke="#231f20" stroke-width="0.7"/>
<text x="286.1" y="337.18" font-size="5.9" text-anchor="end">120</text>
<line x1="287.1" y1="326.3" x2="289.5" y2="326.3" stroke="#231f20" stroke-width="0.7"/>
<text x="286.1" y="328.42" font-size="5.9" text-anchor="end">140</text>
<line x1="289.4" y1="387.5" x2="382.5" y2="387.5" stroke="#231f20" stroke-width="0.9"/>
<line x1="289.4" y1="387.5" x2="289.4" y2="389.7" stroke="#231f20" stroke-width="0.7"/>
<text x="289.4" y="396.1" font-size="5.9" text-anchor="middle">0</text>
<line x1="307.92" y1="387.5" x2="307.92" y2="389.7" stroke="#231f20" stroke-width="0.7"/>
<text x="307.92" y="396.1" font-size="5.9" text-anchor="middle">2</text>
<line x1="326.44" y1="387.5" x2="326.44" y2="389.7" stroke="#231f20" stroke-width="0.7"/>
<text x="326.44" y="396.1" font-size="5.9" text-anchor="middle">4</text>
<line x1="344.96" y1="387.5" x2="344.96" y2="389.7" stroke="#231f20" stroke-width="0.7"/>
<text x="344.96" y="396.1" font-size="5.9" text-anchor="middle">6</text>
<line x1="363.48" y1="387.5" x2="363.48" y2="389.7" stroke="#231f20" stroke-width="0.7"/>
<text x="363.48" y="396.1" font-size="5.9" text-anchor="middle">8</text>
<line x1="382" y1="387.5" x2="382" y2="389.7" stroke="#231f20" stroke-width="0.7"/>
<text x="382" y="396.1" font-size="5.9" text-anchor="middle">10</text>
<text x="336.2" y="405" font-size="6.15" text-anchor="middle" textLength="31.3" lengthAdjust="spacingAndGlyphs">Time (days)</text>
<text x="270.8" y="357.5" font-size="6.3" text-anchor="middle" transform="rotate(-90 270.8 357.5)" textLength="68" lengthAdjust="spacingAndGlyphs">Relative cell viability (%)</text>
<text x="320" y="326.6" font-size="6" textLength="31.3" lengthAdjust="spacingAndGlyphs">Granta-519</text>
<polyline points="289.4,343.81 307.92,354.32 326.44,361.33 344.96,380.16 363.48,386.72" fill="none" stroke="#2eb08c" stroke-width="1"/>
<line x1="289.4" y1="347.32" x2="289.4" y2="340.31" stroke="#2eb08c" stroke-width="0.6"/>
<line x1="288" y1="347.32" x2="290.8" y2="347.32" stroke="#2eb08c" stroke-width="0.6"/>
<line x1="288" y1="340.31" x2="290.8" y2="340.31" stroke="#2eb08c" stroke-width="0.6"/>
<line x1="307.92" y1="356.95" x2="307.92" y2="351.7" stroke="#2eb08c" stroke-width="0.6"/>
<line x1="306.52" y1="356.95" x2="309.32" y2="356.95" stroke="#2eb08c" stroke-width="0.6"/>
<line x1="306.52" y1="351.7" x2="309.32" y2="351.7" stroke="#2eb08c" stroke-width="0.6"/>
<line x1="326.44" y1="369.21" x2="326.44" y2="353.45" stroke="#2eb08c" stroke-width="0.6"/>
<line x1="325.04" y1="369.21" x2="327.84" y2="369.21" stroke="#2eb08c" stroke-width="0.6"/>
<line x1="325.04" y1="353.45" x2="327.84" y2="353.45" stroke="#2eb08c" stroke-width="0.6"/>
<line x1="344.96" y1="385.41" x2="344.96" y2="374.9" stroke="#2eb08c" stroke-width="0.6"/>
<line x1="343.56" y1="385.41" x2="346.36" y2="385.41" stroke="#2eb08c" stroke-width="0.6"/>
<line x1="343.56" y1="374.9" x2="346.36" y2="374.9" stroke="#2eb08c" stroke-width="0.6"/>
<line x1="363.48" y1="387.6" x2="363.48" y2="385.85" stroke="#2eb08c" stroke-width="0.6"/>
<line x1="362.08" y1="387.6" x2="364.88" y2="387.6" stroke="#2eb08c" stroke-width="0.6"/>
<line x1="362.08" y1="385.85" x2="364.88" y2="385.85" stroke="#2eb08c" stroke-width="0.6"/>
<circle cx="289.4" cy="343.81" r="1.2" fill="#217e64"/>
<circle cx="307.92" cy="354.32" r="1.2" fill="#217e64"/>
<circle cx="326.44" cy="361.33" r="1.2" fill="#217e64"/>
<circle cx="344.96" cy="380.16" r="1.2" fill="#217e64"/>
<circle cx="363.48" cy="386.72" r="1.2" fill="#217e64"/>
<polyline points="289.4,343.81 307.92,343.81 326.44,357.83 344.96,354.32 363.48,354.32" fill="none" stroke="#efab68" stroke-width="1"/>
<line x1="289.4" y1="346" x2="289.4" y2="341.62" stroke="#efab68" stroke-width="0.6"/>
<line x1="288" y1="346" x2="290.8" y2="346" stroke="#efab68" stroke-width="0.6"/>
<line x1="288" y1="341.62" x2="290.8" y2="341.62" stroke="#efab68" stroke-width="0.6"/>
<line x1="307.92" y1="347.32" x2="307.92" y2="340.31" stroke="#efab68" stroke-width="0.6"/>
<line x1="306.52" y1="347.32" x2="309.32" y2="347.32" stroke="#efab68" stroke-width="0.6"/>
<line x1="306.52" y1="340.31" x2="309.32" y2="340.31" stroke="#efab68" stroke-width="0.6"/>
<line x1="326.44" y1="362.2" x2="326.44" y2="353.45" stroke="#efab68" stroke-width="0.6"/>
<line x1="325.04" y1="362.2" x2="327.84" y2="362.2" stroke="#efab68" stroke-width="0.6"/>
<line x1="325.04" y1="353.45" x2="327.84" y2="353.45" stroke="#efab68" stroke-width="0.6"/>
<line x1="344.96" y1="356.51" x2="344.96" y2="352.13" stroke="#efab68" stroke-width="0.6"/>
<line x1="343.56" y1="356.51" x2="346.36" y2="356.51" stroke="#efab68" stroke-width="0.6"/>
<line x1="343.56" y1="352.13" x2="346.36" y2="352.13" stroke="#efab68" stroke-width="0.6"/>
<line x1="363.48" y1="357.83" x2="363.48" y2="350.82" stroke="#efab68" stroke-width="0.6"/>
<line x1="362.08" y1="357.83" x2="364.88" y2="357.83" stroke="#efab68" stroke-width="0.6"/>
<line x1="362.08" y1="350.82" x2="364.88" y2="350.82" stroke="#efab68" stroke-width="0.6"/>
<circle cx="289.4" cy="343.81" r="1.2" fill="#ac7b4a"/>
<circle cx="307.92" cy="343.81" r="1.2" fill="#ac7b4a"/>
<circle cx="326.44" cy="357.83" r="1.2" fill="#ac7b4a"/>
<circle cx="344.96" cy="354.32" r="1.2" fill="#ac7b4a"/>
<circle cx="363.48" cy="354.32" r="1.2" fill="#ac7b4a"/>
<polyline points="289.4,343.81 307.92,337.25 326.44,346 344.96,344.69 363.48,353.88" fill="none" stroke="#cf3f55" stroke-width="1"/>
<line x1="289.4" y1="347.32" x2="289.4" y2="340.31" stroke="#cf3f55" stroke-width="0.6"/>
<line x1="288" y1="347.32" x2="290.8" y2="347.32" stroke="#cf3f55" stroke-width="0.6"/>
<line x1="288" y1="340.31" x2="290.8" y2="340.31" stroke="#cf3f55" stroke-width="0.6"/>
<line x1="307.92" y1="343.81" x2="307.92" y2="330.68" stroke="#cf3f55" stroke-width="0.6"/>
<line x1="306.52" y1="343.81" x2="309.32" y2="343.81" stroke="#cf3f55" stroke-width="0.6"/>
<line x1="306.52" y1="330.68" x2="309.32" y2="330.68" stroke="#cf3f55" stroke-width="0.6"/>
<line x1="326.44" y1="348.19" x2="326.44" y2="343.81" stroke="#cf3f55" stroke-width="0.6"/>
<line x1="325.04" y1="348.19" x2="327.84" y2="348.19" stroke="#cf3f55" stroke-width="0.6"/>
<line x1="325.04" y1="343.81" x2="327.84" y2="343.81" stroke="#cf3f55" stroke-width="0.6"/>
<line x1="344.96" y1="353.45" x2="344.96" y2="335.93" stroke="#cf3f55" stroke-width="0.6"/>
<line x1="343.56" y1="353.45" x2="346.36" y2="353.45" stroke="#cf3f55" stroke-width="0.6"/>
<line x1="343.56" y1="335.93" x2="346.36" y2="335.93" stroke="#cf3f55" stroke-width="0.6"/>
<line x1="363.48" y1="359.14" x2="363.48" y2="348.63" stroke="#cf3f55" stroke-width="0.6"/>
<line x1="362.08" y1="359.14" x2="364.88" y2="359.14" stroke="#cf3f55" stroke-width="0.6"/>
<line x1="362.08" y1="348.63" x2="364.88" y2="348.63" stroke="#cf3f55" stroke-width="0.6"/>
<circle cx="289.4" cy="343.81" r="1.2" fill="#952d3d"/>
<circle cx="307.92" cy="337.25" r="1.2" fill="#952d3d"/>
<circle cx="326.44" cy="346" r="1.2" fill="#952d3d"/>
<circle cx="344.96" cy="344.69" r="1.2" fill="#952d3d"/>
<circle cx="363.48" cy="353.88" r="1.2" fill="#952d3d"/>
<polyline points="289.4,343.81 307.92,343.81 326.44,343.81 344.96,343.81 363.48,343.81" fill="none" stroke="#111111" stroke-width="1.1"/>
<line x1="289.4" y1="347.32" x2="289.4" y2="340.31" stroke="#111111" stroke-width="0.6"/>
<line x1="288" y1="347.32" x2="290.8" y2="347.32" stroke="#111111" stroke-width="0.6"/>
<line x1="288" y1="340.31" x2="290.8" y2="340.31" stroke="#111111" stroke-width="0.6"/>
<line x1="307.92" y1="347.32" x2="307.92" y2="340.31" stroke="#111111" stroke-width="0.6"/>
<line x1="306.52" y1="347.32" x2="309.32" y2="347.32" stroke="#111111" stroke-width="0.6"/>
<line x1="306.52" y1="340.31" x2="309.32" y2="340.31" stroke="#111111" stroke-width="0.6"/>
<line x1="326.44" y1="348.19" x2="326.44" y2="339.44" stroke="#111111" stroke-width="0.6"/>
<line x1="325.04" y1="348.19" x2="327.84" y2="348.19" stroke="#111111" stroke-width="0.6"/>
<line x1="325.04" y1="339.44" x2="327.84" y2="339.44" stroke="#111111" stroke-width="0.6"/>
<line x1="344.96" y1="351.7" x2="344.96" y2="335.93" stroke="#111111" stroke-width="0.6"/>
<line x1="343.56" y1="351.7" x2="346.36" y2="351.7" stroke="#111111" stroke-width="0.6"/>
<line x1="343.56" y1="335.93" x2="346.36" y2="335.93" stroke="#111111" stroke-width="0.6"/>
<line x1="363.48" y1="354.76" x2="363.48" y2="332.87" stroke="#111111" stroke-width="0.6"/>
<line x1="362.08" y1="354.76" x2="364.88" y2="354.76" stroke="#111111" stroke-width="0.6"/>
<line x1="362.08" y1="332.87" x2="364.88" y2="332.87" stroke="#111111" stroke-width="0.6"/>
<circle cx="289.4" cy="343.81" r="1.2" fill="#0c0c0c"/>
<circle cx="307.92" cy="343.81" r="1.2" fill="#0c0c0c"/>
<circle cx="326.44" cy="343.81" r="1.2" fill="#0c0c0c"/>
<circle cx="344.96" cy="343.81" r="1.2" fill="#0c0c0c"/>
<circle cx="363.48" cy="343.81" r="1.2" fill="#0c0c0c"/>
<line x1="365.4" y1="346.5" x2="365.4" y2="352.5" stroke="#555" stroke-width="0.6"/>
<line x1="372.6" y1="343.8" x2="372.6" y2="386.5" stroke="#555" stroke-width="0.7"/>
<line x1="370.6" y1="343.8" x2="372.6" y2="343.8" stroke="#555" stroke-width="0.6"/>
<text x="369.4" y="351" font-size="6" text-anchor="middle">ns</text>
<text x="374.04" y="365.45" font-size="7" text-anchor="middle" font-weight="bold" transform="rotate(90 374.04 365.45)" letter-spacing="0.9" class="s">**</text>
<line x1="291.6" y1="366.9" x2="298.3" y2="366.9" stroke="#111111" stroke-width="0.8"/>
<circle cx="294.95" cy="366.9" r="1.1" fill="#0c0c0c"/>
<text x="300" y="368.84" font-size="5.4">Vector</text>
<line x1="291.6" y1="372.75" x2="298.3" y2="372.75" stroke="#2eb08c" stroke-width="0.8"/>
<circle cx="294.95" cy="372.75" r="1.1" fill="#217e64"/>
<text x="300" y="374.69" font-size="5.4">Full length</text>
<line x1="291.6" y1="378.6" x2="298.3" y2="378.6" stroke="#cf3f55" stroke-width="0.8"/>
<circle cx="294.95" cy="378.6" r="1.1" fill="#952d3d"/>
<text x="300" y="380.54" font-size="5.4">ΔN</text>
<line x1="291.6" y1="384.45" x2="298.3" y2="384.45" stroke="#efab68" stroke-width="0.8"/>
<circle cx="294.95" cy="384.45" r="1.1" fill="#ac7b4a"/>
<text x="300" y="386.39" font-size="5.4">ΔPHD</text>
<text x="395" y="317.5" font-size="10.9" font-weight="bold" fill="#000">P</text>
<line x1="421.5" y1="327" x2="421.5" y2="387.6" stroke="#231f20" stroke-width="0.9"/>
<line x1="419.1" y1="387.6" x2="421.5" y2="387.6" stroke="#231f20" stroke-width="0.7"/>
<text x="418.1" y="389.72" font-size="5.9" text-anchor="end">0</text>
<line x1="419.1" y1="378.1" x2="421.5" y2="378.1" stroke="#231f20" stroke-width="0.7"/>
<text x="418.1" y="380.22" font-size="5.9" text-anchor="end">20</text>
<line x1="419.1" y1="368.6" x2="421.5" y2="368.6" stroke="#231f20" stroke-width="0.7"/>
<text x="418.1" y="370.72" font-size="5.9" text-anchor="end">40</text>
<line x1="419.1" y1="359.1" x2="421.5" y2="359.1" stroke="#231f20" stroke-width="0.7"/>
<text x="418.1" y="361.22" font-size="5.9" text-anchor="end">60</text>
<line x1="419.1" y1="349.6" x2="421.5" y2="349.6" stroke="#231f20" stroke-width="0.7"/>
<text x="418.1" y="351.72" font-size="5.9" text-anchor="end">80</text>
<line x1="419.1" y1="340.1" x2="421.5" y2="340.1" stroke="#231f20" stroke-width="0.7"/>
<text x="418.1" y="342.22" font-size="5.9" text-anchor="end">100</text>
<line x1="419.1" y1="330.6" x2="421.5" y2="330.6" stroke="#231f20" stroke-width="0.7"/>
<text x="418.1" y="332.72" font-size="5.9" text-anchor="end">120</text>
<line x1="421.5" y1="387.5" x2="512.3" y2="387.5" stroke="#231f20" stroke-width="0.9"/>
<line x1="421.5" y1="387.5" x2="421.5" y2="389.7" stroke="#231f20" stroke-width="0.7"/>
<text x="421.5" y="396.1" font-size="5.9" text-anchor="middle">0</text>
<line x1="439.56" y1="387.5" x2="439.56" y2="389.7" stroke="#231f20" stroke-width="0.7"/>
<text x="439.56" y="396.1" font-size="5.9" text-anchor="middle">2</text>
<line x1="457.62" y1="387.5" x2="457.62" y2="389.7" stroke="#231f20" stroke-width="0.7"/>
<text x="457.62" y="396.1" font-size="5.9" text-anchor="middle">4</text>
<line x1="475.68" y1="387.5" x2="475.68" y2="389.7" stroke="#231f20" stroke-width="0.7"/>
<text x="475.68" y="396.1" font-size="5.9" text-anchor="middle">6</text>
<line x1="493.74" y1="387.5" x2="493.74" y2="389.7" stroke="#231f20" stroke-width="0.7"/>
<text x="493.74" y="396.1" font-size="5.9" text-anchor="middle">8</text>
<line x1="511.8" y1="387.5" x2="511.8" y2="389.7" stroke="#231f20" stroke-width="0.7"/>
<text x="511.8" y="396.1" font-size="5.9" text-anchor="middle">10</text>
<text x="468.3" y="405" font-size="6.15" text-anchor="middle" textLength="31.3" lengthAdjust="spacingAndGlyphs">Time (days)</text>
<text x="403" y="358" font-size="6.3" text-anchor="middle" transform="rotate(-90 403 358)" textLength="68" lengthAdjust="spacingAndGlyphs">Relative cell viability (%)</text>
<text x="453.9" y="326.6" font-size="6" textLength="17.5" lengthAdjust="spacingAndGlyphs">JeKo-1</text>
<polyline points="421.5,340.1 439.56,344.85 457.62,356.73 475.68,363.38 493.74,369.08" fill="none" stroke="#2eb08c" stroke-width="1"/>
<line x1="421.5" y1="347.23" x2="421.5" y2="332.98" stroke="#2eb08c" stroke-width="0.6"/>
<line x1="420.1" y1="347.23" x2="422.9" y2="347.23" stroke="#2eb08c" stroke-width="0.6"/>
<line x1="420.1" y1="332.98" x2="422.9" y2="332.98" stroke="#2eb08c" stroke-width="0.6"/>
<line x1="439.56" y1="347.7" x2="439.56" y2="342" stroke="#2eb08c" stroke-width="0.6"/>
<line x1="438.16" y1="347.7" x2="440.96" y2="347.7" stroke="#2eb08c" stroke-width="0.6"/>
<line x1="438.16" y1="342" x2="440.96" y2="342" stroke="#2eb08c" stroke-width="0.6"/>
<line x1="457.62" y1="361.48" x2="457.62" y2="351.98" stroke="#2eb08c" stroke-width="0.6"/>
<line x1="456.22" y1="361.48" x2="459.02" y2="361.48" stroke="#2eb08c" stroke-width="0.6"/>
<line x1="456.22" y1="351.98" x2="459.02" y2="351.98" stroke="#2eb08c" stroke-width="0.6"/>
<line x1="475.68" y1="372.88" x2="475.68" y2="353.88" stroke="#2eb08c" stroke-width="0.6"/>
<line x1="474.28" y1="372.88" x2="477.08" y2="372.88" stroke="#2eb08c" stroke-width="0.6"/>
<line x1="474.28" y1="353.88" x2="477.08" y2="353.88" stroke="#2eb08c" stroke-width="0.6"/>
<line x1="493.74" y1="379.53" x2="493.74" y2="358.62" stroke="#2eb08c" stroke-width="0.6"/>
<line x1="492.34" y1="379.53" x2="495.14" y2="379.53" stroke="#2eb08c" stroke-width="0.6"/>
<line x1="492.34" y1="358.62" x2="495.14" y2="358.62" stroke="#2eb08c" stroke-width="0.6"/>
<circle cx="421.5" cy="340.1" r="1.2" fill="#217e64"/>
<circle cx="439.56" cy="344.85" r="1.2" fill="#217e64"/>
<circle cx="457.62" cy="356.73" r="1.2" fill="#217e64"/>
<circle cx="475.68" cy="363.38" r="1.2" fill="#217e64"/>
<circle cx="493.74" cy="369.08" r="1.2" fill="#217e64"/>
<polyline points="421.5,340.1 439.56,339.15 457.62,340.1 475.68,337.73 493.74,347.23" fill="none" stroke="#efab68" stroke-width="1"/>
<line x1="421.5" y1="342.48" x2="421.5" y2="337.73" stroke="#efab68" stroke-width="0.6"/>
<line x1="420.1" y1="342.48" x2="422.9" y2="342.48" stroke="#efab68" stroke-width="0.6"/>
<line x1="420.1" y1="337.73" x2="422.9" y2="337.73" stroke="#efab68" stroke-width="0.6"/>
<line x1="439.56" y1="342.95" x2="439.56" y2="335.35" stroke="#efab68" stroke-width="0.6"/>
<line x1="438.16" y1="342.95" x2="440.96" y2="342.95" stroke="#efab68" stroke-width="0.6"/>
<line x1="438.16" y1="335.35" x2="440.96" y2="335.35" stroke="#efab68" stroke-width="0.6"/>
<line x1="457.62" y1="349.6" x2="457.62" y2="330.6" stroke="#efab68" stroke-width="0.6"/>
<line x1="456.22" y1="349.6" x2="459.02" y2="349.6" stroke="#efab68" stroke-width="0.6"/>
<line x1="456.22" y1="330.6" x2="459.02" y2="330.6" stroke="#efab68" stroke-width="0.6"/>
<line x1="475.68" y1="343.43" x2="475.68" y2="332.03" stroke="#efab68" stroke-width="0.6"/>
<line x1="474.28" y1="343.43" x2="477.08" y2="343.43" stroke="#efab68" stroke-width="0.6"/>
<line x1="474.28" y1="332.03" x2="477.08" y2="332.03" stroke="#efab68" stroke-width="0.6"/>
<line x1="493.74" y1="351.98" x2="493.74" y2="342.48" stroke="#efab68" stroke-width="0.6"/>
<line x1="492.34" y1="351.98" x2="495.14" y2="351.98" stroke="#efab68" stroke-width="0.6"/>
<line x1="492.34" y1="342.48" x2="495.14" y2="342.48" stroke="#efab68" stroke-width="0.6"/>
<circle cx="421.5" cy="340.1" r="1.2" fill="#ac7b4a"/>
<circle cx="439.56" cy="339.15" r="1.2" fill="#ac7b4a"/>
<circle cx="457.62" cy="340.1" r="1.2" fill="#ac7b4a"/>
<circle cx="475.68" cy="337.73" r="1.2" fill="#ac7b4a"/>
<circle cx="493.74" cy="347.23" r="1.2" fill="#ac7b4a"/>
<polyline points="421.5,340.1 439.56,345.8 457.62,340.1 475.68,345.8 493.74,346.75" fill="none" stroke="#cf3f55" stroke-width="1"/>
<line x1="421.5" y1="342.95" x2="421.5" y2="337.25" stroke="#cf3f55" stroke-width="0.6"/>
<line x1="420.1" y1="342.95" x2="422.9" y2="342.95" stroke="#cf3f55" stroke-width="0.6"/>
<line x1="420.1" y1="337.25" x2="422.9" y2="337.25" stroke="#cf3f55" stroke-width="0.6"/>
<line x1="439.56" y1="350.55" x2="439.56" y2="341.05" stroke="#cf3f55" stroke-width="0.6"/>
<line x1="438.16" y1="350.55" x2="440.96" y2="350.55" stroke="#cf3f55" stroke-width="0.6"/>
<line x1="438.16" y1="341.05" x2="440.96" y2="341.05" stroke="#cf3f55" stroke-width="0.6"/>
<line x1="457.62" y1="347.23" x2="457.62" y2="332.98" stroke="#cf3f55" stroke-width="0.6"/>
<line x1="456.22" y1="347.23" x2="459.02" y2="347.23" stroke="#cf3f55" stroke-width="0.6"/>
<line x1="456.22" y1="332.98" x2="459.02" y2="332.98" stroke="#cf3f55" stroke-width="0.6"/>
<line x1="475.68" y1="349.6" x2="475.68" y2="342" stroke="#cf3f55" stroke-width="0.6"/>
<line x1="474.28" y1="349.6" x2="477.08" y2="349.6" stroke="#cf3f55" stroke-width="0.6"/>
<line x1="474.28" y1="342" x2="477.08" y2="342" stroke="#cf3f55" stroke-width="0.6"/>
<line x1="493.74" y1="358.62" x2="493.74" y2="334.88" stroke="#cf3f55" stroke-width="0.6"/>
<line x1="492.34" y1="358.62" x2="495.14" y2="358.62" stroke="#cf3f55" stroke-width="0.6"/>
<line x1="492.34" y1="334.88" x2="495.14" y2="334.88" stroke="#cf3f55" stroke-width="0.6"/>
<circle cx="421.5" cy="340.1" r="1.2" fill="#952d3d"/>
<circle cx="439.56" cy="345.8" r="1.2" fill="#952d3d"/>
<circle cx="457.62" cy="340.1" r="1.2" fill="#952d3d"/>
<circle cx="475.68" cy="345.8" r="1.2" fill="#952d3d"/>
<circle cx="493.74" cy="346.75" r="1.2" fill="#952d3d"/>
<polyline points="421.5,340.1 439.56,340.1 457.62,340.1 475.68,340.1 493.74,340.1" fill="none" stroke="#111111" stroke-width="1.1"/>
<line x1="421.5" y1="343.9" x2="421.5" y2="336.3" stroke="#111111" stroke-width="0.6"/>
<line x1="420.1" y1="343.9" x2="422.9" y2="343.9" stroke="#111111" stroke-width="0.6"/>
<line x1="420.1" y1="336.3" x2="422.9" y2="336.3" stroke="#111111" stroke-width="0.6"/>
<line x1="439.56" y1="345.8" x2="439.56" y2="334.4" stroke="#111111" stroke-width="0.6"/>
<line x1="438.16" y1="345.8" x2="440.96" y2="345.8" stroke="#111111" stroke-width="0.6"/>
<line x1="438.16" y1="334.4" x2="440.96" y2="334.4" stroke="#111111" stroke-width="0.6"/>
<line x1="457.62" y1="345.8" x2="457.62" y2="334.4" stroke="#111111" stroke-width="0.6"/>
<line x1="456.22" y1="345.8" x2="459.02" y2="345.8" stroke="#111111" stroke-width="0.6"/>
<line x1="456.22" y1="334.4" x2="459.02" y2="334.4" stroke="#111111" stroke-width="0.6"/>
<line x1="475.68" y1="344.85" x2="475.68" y2="335.35" stroke="#111111" stroke-width="0.6"/>
<line x1="474.28" y1="344.85" x2="477.08" y2="344.85" stroke="#111111" stroke-width="0.6"/>
<line x1="474.28" y1="335.35" x2="477.08" y2="335.35" stroke="#111111" stroke-width="0.6"/>
<line x1="493.74" y1="349.6" x2="493.74" y2="330.6" stroke="#111111" stroke-width="0.6"/>
<line x1="492.34" y1="349.6" x2="495.14" y2="349.6" stroke="#111111" stroke-width="0.6"/>
<line x1="492.34" y1="330.6" x2="495.14" y2="330.6" stroke="#111111" stroke-width="0.6"/>
<circle cx="421.5" cy="340.1" r="1.2" fill="#0c0c0c"/>
<circle cx="439.56" cy="340.1" r="1.2" fill="#0c0c0c"/>
<circle cx="457.62" cy="340.1" r="1.2" fill="#0c0c0c"/>
<circle cx="475.68" cy="340.1" r="1.2" fill="#0c0c0c"/>
<circle cx="493.74" cy="340.1" r="1.2" fill="#0c0c0c"/>
<line x1="495.4" y1="341.3" x2="495.4" y2="346.5" stroke="#555" stroke-width="0.6"/>
<line x1="503.8" y1="340.5" x2="503.8" y2="369.7" stroke="#555" stroke-width="0.6"/>
<text x="499.2" y="345.2" font-size="6" text-anchor="middle">ns</text>
<text x="508.1" y="355.5" font-size="6.5" text-anchor="middle" font-weight="bold">*</text>
<line x1="423.3" y1="366.9" x2="430" y2="366.9" stroke="#111111" stroke-width="0.8"/>
<circle cx="426.65" cy="366.9" r="1.1" fill="#0c0c0c"/>
<text x="431.7" y="368.84" font-size="5.4">Vector</text>
<line x1="423.3" y1="372.75" x2="430" y2="372.75" stroke="#2eb08c" stroke-width="0.8"/>
<circle cx="426.65" cy="372.75" r="1.1" fill="#217e64"/>
<text x="431.7" y="374.69" font-size="5.4">Full length</text>
<line x1="423.3" y1="378.6" x2="430" y2="378.6" stroke="#cf3f55" stroke-width="0.8"/>
<circle cx="426.65" cy="378.6" r="1.1" fill="#952d3d"/>
<text x="431.7" y="380.54" font-size="5.4">ΔN</text>
<line x1="423.3" y1="384.45" x2="430" y2="384.45" stroke="#efab68" stroke-width="0.8"/>
<circle cx="426.65" cy="384.45" r="1.1" fill="#ac7b4a"/>
<text x="431.7" y="386.39" font-size="5.4">ΔPHD</text>
</svg>
</body></html>
